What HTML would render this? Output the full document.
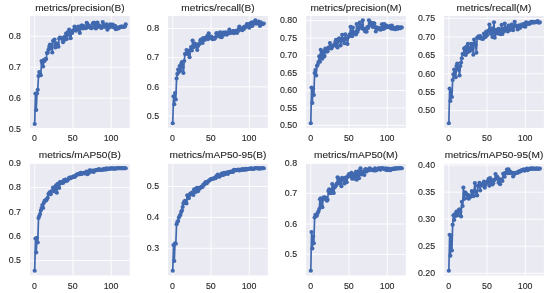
<!DOCTYPE html>
<html><head><meta charset="utf-8"><title>results</title>
<style>
html,body{margin:0;padding:0;background:#fff}
svg{display:block}
text{font-family:"Liberation Sans",Arial,sans-serif;fill:#262626;stroke:#262626;stroke-width:0.1px}
.t{font-size:9.3px}
.k{font-size:8.5px}
</style></head><body>
<svg width="550" height="293" viewBox="0 0 550 293">
<rect width="550" height="293" fill="#fff"/>
<g transform="scale(1.0,1)">
<rect x="30.000" y="16.0" width="99.750" height="111.90" fill="#eaeaf2"/>
<path d="M34.700 16.0V127.9M72.950 16.0V127.9M111.200 16.0V127.9M30.000 98.2H129.750M30.000 67.25H129.750M30.000 36.3H129.750" stroke="#fff" stroke-width="0.9" fill="none"/>
<g clip-path="none"><path d="M34.70 123.90 L35.47 93.50 L36.23 110.00 L37.00 93.50 L37.76 89.80 L38.53 76.00 L39.29 72.00 L40.06 74.00 L40.82 75.30 L41.59 61.00 L42.35 63.00 L43.12 66.40 L43.88 60.00 L44.65 61.00 L45.41 58.90 L46.18 59.00 L46.94 53.10 L47.71 52.65 L48.47 49.73 L49.23 46.87 L50.00 44.52 L50.77 48.48 L51.53 45.07 L52.30 52.47 L53.06 40.88 L53.83 40.36 L54.59 39.48 L55.36 47.39 L56.12 45.85 L56.89 43.14 L57.65 44.35 L58.42 46.73 L59.18 38.49 L59.95 37.41 L60.71 37.94 L61.48 38.03 L62.24 39.11 L63.01 42.19 L63.77 40.12 L64.53 36.83 L65.30 39.58 L66.06 33.47 L66.83 39.10 L67.59 32.24 L68.36 32.75 L69.12 29.56 L69.89 35.27 L70.66 38.25 L71.42 32.39 L72.19 32.99 L72.95 30.52 L73.72 30.15 L74.48 26.59 L75.25 28.90 L76.01 30.87 L76.78 28.05 L77.54 27.36 L78.31 26.44 L79.07 29.63 L79.84 33.03 L80.60 28.12 L81.37 25.43 L82.13 25.38 L82.90 28.51 L83.66 26.04 L84.43 27.55 L85.19 27.99 L85.96 28.24 L86.72 22.74 L87.49 24.01 L88.25 26.88 L89.02 25.71 L89.78 26.36 L90.55 27.66 L91.31 28.13 L92.08 27.67 L92.84 23.56 L93.61 22.86 L94.37 22.86 L95.14 25.79 L95.90 28.50 L96.67 27.51 L97.43 22.42 L98.20 26.79 L98.96 25.26 L99.73 26.18 L100.49 26.68 L101.26 27.88 L102.02 27.42 L102.79 21.97 L103.55 25.34 L104.31 25.62 L105.08 27.03 L105.84 25.07 L106.61 24.26 L107.38 29.70 L108.14 26.75 L108.91 27.82 L109.67 25.25 L110.44 24.21 L111.20 26.47 L111.97 26.50 L112.73 24.58 L113.50 27.14 L114.26 25.73 L115.03 25.87 L115.79 29.36 L116.56 27.47 L117.32 28.84 L118.09 27.62 L118.85 28.37 L119.62 27.26 L120.38 26.82 L121.15 26.55 L121.91 26.80 L122.68 26.53 L123.44 26.92 L124.20 26.75 L124.97 26.60 L125.73 24.37" stroke="#4169b0" stroke-width="1.7" fill="none" stroke-linejoin="round" stroke-linecap="round"/>
<g fill="#4169b0"><ellipse cx="34.70" cy="123.90" rx="2.1" ry="2.0"/><ellipse cx="35.47" cy="93.50" rx="2.1" ry="2.0"/><ellipse cx="36.23" cy="110.00" rx="2.1" ry="2.0"/><ellipse cx="37.00" cy="93.50" rx="2.1" ry="2.0"/><ellipse cx="37.76" cy="89.80" rx="2.1" ry="2.0"/><ellipse cx="38.53" cy="76.00" rx="2.1" ry="2.0"/><ellipse cx="39.29" cy="72.00" rx="2.1" ry="2.0"/><ellipse cx="40.06" cy="74.00" rx="2.1" ry="2.0"/><ellipse cx="40.82" cy="75.30" rx="2.1" ry="2.0"/><ellipse cx="41.59" cy="61.00" rx="2.1" ry="2.0"/><ellipse cx="42.35" cy="63.00" rx="2.1" ry="2.0"/><ellipse cx="43.12" cy="66.40" rx="2.1" ry="2.0"/><ellipse cx="43.88" cy="60.00" rx="2.1" ry="2.0"/><ellipse cx="44.65" cy="61.00" rx="2.1" ry="2.0"/><ellipse cx="45.41" cy="58.90" rx="2.1" ry="2.0"/><ellipse cx="46.18" cy="59.00" rx="2.1" ry="2.0"/><ellipse cx="46.94" cy="53.10" rx="2.1" ry="2.0"/><ellipse cx="47.71" cy="52.65" rx="2.1" ry="2.0"/><ellipse cx="48.47" cy="49.73" rx="2.1" ry="2.0"/><ellipse cx="49.23" cy="46.87" rx="2.1" ry="2.0"/><ellipse cx="50.00" cy="44.52" rx="2.1" ry="2.0"/><ellipse cx="50.77" cy="48.48" rx="2.1" ry="2.0"/><ellipse cx="51.53" cy="45.07" rx="2.1" ry="2.0"/><ellipse cx="52.30" cy="52.47" rx="2.1" ry="2.0"/><ellipse cx="53.06" cy="40.88" rx="2.1" ry="2.0"/><ellipse cx="53.83" cy="40.36" rx="2.1" ry="2.0"/><ellipse cx="54.59" cy="39.48" rx="2.1" ry="2.0"/><ellipse cx="55.36" cy="47.39" rx="2.1" ry="2.0"/><ellipse cx="56.12" cy="45.85" rx="2.1" ry="2.0"/><ellipse cx="56.89" cy="43.14" rx="2.1" ry="2.0"/><ellipse cx="57.65" cy="44.35" rx="2.1" ry="2.0"/><ellipse cx="58.42" cy="46.73" rx="2.1" ry="2.0"/><ellipse cx="59.18" cy="38.49" rx="2.1" ry="2.0"/><ellipse cx="59.95" cy="37.41" rx="2.1" ry="2.0"/><ellipse cx="60.71" cy="37.94" rx="2.1" ry="2.0"/><ellipse cx="61.48" cy="38.03" rx="2.1" ry="2.0"/><ellipse cx="62.24" cy="39.11" rx="2.1" ry="2.0"/><ellipse cx="63.01" cy="42.19" rx="2.1" ry="2.0"/><ellipse cx="63.77" cy="40.12" rx="2.1" ry="2.0"/><ellipse cx="64.53" cy="36.83" rx="2.1" ry="2.0"/><ellipse cx="65.30" cy="39.58" rx="2.1" ry="2.0"/><ellipse cx="66.06" cy="33.47" rx="2.1" ry="2.0"/><ellipse cx="66.83" cy="39.10" rx="2.1" ry="2.0"/><ellipse cx="67.59" cy="32.24" rx="2.1" ry="2.0"/><ellipse cx="68.36" cy="32.75" rx="2.1" ry="2.0"/><ellipse cx="69.12" cy="29.56" rx="2.1" ry="2.0"/><ellipse cx="69.89" cy="35.27" rx="2.1" ry="2.0"/><ellipse cx="70.66" cy="38.25" rx="2.1" ry="2.0"/><ellipse cx="71.42" cy="32.39" rx="2.1" ry="2.0"/><ellipse cx="72.19" cy="32.99" rx="2.1" ry="2.0"/><ellipse cx="72.95" cy="30.52" rx="2.1" ry="2.0"/><ellipse cx="73.72" cy="30.15" rx="2.1" ry="2.0"/><ellipse cx="74.48" cy="26.59" rx="2.1" ry="2.0"/><ellipse cx="75.25" cy="28.90" rx="2.1" ry="2.0"/><ellipse cx="76.01" cy="30.87" rx="2.1" ry="2.0"/><ellipse cx="76.78" cy="28.05" rx="2.1" ry="2.0"/><ellipse cx="77.54" cy="27.36" rx="2.1" ry="2.0"/><ellipse cx="78.31" cy="26.44" rx="2.1" ry="2.0"/><ellipse cx="79.07" cy="29.63" rx="2.1" ry="2.0"/><ellipse cx="79.84" cy="33.03" rx="2.1" ry="2.0"/><ellipse cx="80.60" cy="28.12" rx="2.1" ry="2.0"/><ellipse cx="81.37" cy="25.43" rx="2.1" ry="2.0"/><ellipse cx="82.13" cy="25.38" rx="2.1" ry="2.0"/><ellipse cx="82.90" cy="28.51" rx="2.1" ry="2.0"/><ellipse cx="83.66" cy="26.04" rx="2.1" ry="2.0"/><ellipse cx="84.43" cy="27.55" rx="2.1" ry="2.0"/><ellipse cx="85.19" cy="27.99" rx="2.1" ry="2.0"/><ellipse cx="85.96" cy="28.24" rx="2.1" ry="2.0"/><ellipse cx="86.72" cy="22.74" rx="2.1" ry="2.0"/><ellipse cx="87.49" cy="24.01" rx="2.1" ry="2.0"/><ellipse cx="88.25" cy="26.88" rx="2.1" ry="2.0"/><ellipse cx="89.02" cy="25.71" rx="2.1" ry="2.0"/><ellipse cx="89.78" cy="26.36" rx="2.1" ry="2.0"/><ellipse cx="90.55" cy="27.66" rx="2.1" ry="2.0"/><ellipse cx="91.31" cy="28.13" rx="2.1" ry="2.0"/><ellipse cx="92.08" cy="27.67" rx="2.1" ry="2.0"/><ellipse cx="92.84" cy="23.56" rx="2.1" ry="2.0"/><ellipse cx="93.61" cy="22.86" rx="2.1" ry="2.0"/><ellipse cx="94.37" cy="22.86" rx="2.1" ry="2.0"/><ellipse cx="95.14" cy="25.79" rx="2.1" ry="2.0"/><ellipse cx="95.90" cy="28.50" rx="2.1" ry="2.0"/><ellipse cx="96.67" cy="27.51" rx="2.1" ry="2.0"/><ellipse cx="97.43" cy="22.42" rx="2.1" ry="2.0"/><ellipse cx="98.20" cy="26.79" rx="2.1" ry="2.0"/><ellipse cx="98.96" cy="25.26" rx="2.1" ry="2.0"/><ellipse cx="99.73" cy="26.18" rx="2.1" ry="2.0"/><ellipse cx="100.49" cy="26.68" rx="2.1" ry="2.0"/><ellipse cx="101.26" cy="27.88" rx="2.1" ry="2.0"/><ellipse cx="102.02" cy="27.42" rx="2.1" ry="2.0"/><ellipse cx="102.79" cy="21.97" rx="2.1" ry="2.0"/><ellipse cx="103.55" cy="25.34" rx="2.1" ry="2.0"/><ellipse cx="104.31" cy="25.62" rx="2.1" ry="2.0"/><ellipse cx="105.08" cy="27.03" rx="2.1" ry="2.0"/><ellipse cx="105.84" cy="25.07" rx="2.1" ry="2.0"/><ellipse cx="106.61" cy="24.26" rx="2.1" ry="2.0"/><ellipse cx="107.38" cy="29.70" rx="2.1" ry="2.0"/><ellipse cx="108.14" cy="26.75" rx="2.1" ry="2.0"/><ellipse cx="108.91" cy="27.82" rx="2.1" ry="2.0"/><ellipse cx="109.67" cy="25.25" rx="2.1" ry="2.0"/><ellipse cx="110.44" cy="24.21" rx="2.1" ry="2.0"/><ellipse cx="111.20" cy="26.47" rx="2.1" ry="2.0"/><ellipse cx="111.97" cy="26.50" rx="2.1" ry="2.0"/><ellipse cx="112.73" cy="24.58" rx="2.1" ry="2.0"/><ellipse cx="113.50" cy="27.14" rx="2.1" ry="2.0"/><ellipse cx="114.26" cy="25.73" rx="2.1" ry="2.0"/><ellipse cx="115.03" cy="25.87" rx="2.1" ry="2.0"/><ellipse cx="115.79" cy="29.36" rx="2.1" ry="2.0"/><ellipse cx="116.56" cy="27.47" rx="2.1" ry="2.0"/><ellipse cx="117.32" cy="28.84" rx="2.1" ry="2.0"/><ellipse cx="118.09" cy="27.62" rx="2.1" ry="2.0"/><ellipse cx="118.85" cy="28.37" rx="2.1" ry="2.0"/><ellipse cx="119.62" cy="27.26" rx="2.1" ry="2.0"/><ellipse cx="120.38" cy="26.82" rx="2.1" ry="2.0"/><ellipse cx="121.15" cy="26.55" rx="2.1" ry="2.0"/><ellipse cx="121.91" cy="26.80" rx="2.1" ry="2.0"/><ellipse cx="122.68" cy="26.53" rx="2.1" ry="2.0"/><ellipse cx="123.44" cy="26.92" rx="2.1" ry="2.0"/><ellipse cx="124.20" cy="26.75" rx="2.1" ry="2.0"/><ellipse cx="124.97" cy="26.60" rx="2.1" ry="2.0"/><ellipse cx="125.73" cy="24.37" rx="2.1" ry="2.0"/></g></g>
<text transform="translate(79.88,11.20) scale(1.09,1)" text-anchor="middle" class="t">metrics/precision(B)</text>
<text transform="translate(21.00,131.70) scale(1.04,1)" text-anchor="end" class="k">0.5</text>
<text transform="translate(21.00,100.90) scale(1.04,1)" text-anchor="end" class="k">0.6</text>
<text transform="translate(21.00,69.95) scale(1.04,1)" text-anchor="end" class="k">0.7</text>
<text transform="translate(21.00,39.00) scale(1.04,1)" text-anchor="end" class="k">0.8</text>
<text transform="translate(34.50,140.80) scale(1.04,1)" text-anchor="middle" class="k">0</text>
<text transform="translate(72.75,140.80) scale(1.04,1)" text-anchor="middle" class="k">50</text>
<text transform="translate(111.00,140.80) scale(1.04,1)" text-anchor="middle" class="k">100</text>
<rect x="168.050" y="16.0" width="99.750" height="111.90" fill="#eaeaf2"/>
<path d="M172.750 16.0V127.9M211.000 16.0V127.9M249.250 16.0V127.9M168.050 116.0H267.800M168.050 86.83H267.800M168.050 57.67H267.800M168.050 28.5H267.800" stroke="#fff" stroke-width="0.9" fill="none"/>
<g clip-path="none"><path d="M172.75 123.30 L173.51 96.30 L174.28 104.20 L175.04 93.00 L175.81 99.40 L176.57 78.60 L177.34 74.00 L178.10 69.50 L178.87 72.00 L179.63 66.00 L180.40 70.70 L181.16 64.00 L181.93 62.00 L182.69 67.00 L183.46 73.00 L184.22 61.00 L184.99 54.05 L185.75 53.74 L186.52 49.99 L187.28 53.41 L188.05 50.78 L188.81 54.50 L189.58 57.35 L190.34 49.92 L191.11 46.99 L191.88 50.54 L192.64 40.50 L193.41 46.95 L194.17 46.93 L194.94 43.54 L195.70 45.75 L196.47 45.47 L197.23 50.04 L198.00 45.95 L198.76 43.98 L199.53 44.03 L200.29 40.46 L201.06 39.58 L201.82 39.41 L202.59 43.03 L203.35 37.92 L204.12 39.64 L204.88 39.71 L205.65 38.36 L206.41 37.43 L207.18 35.91 L207.94 39.36 L208.70 33.28 L209.47 37.18 L210.24 37.64 L211.00 36.56 L211.76 37.01 L212.53 39.34 L213.30 38.04 L214.06 39.12 L214.82 38.42 L215.59 37.25 L216.36 33.14 L217.12 33.11 L217.88 35.27 L218.65 34.22 L219.41 36.49 L220.18 32.30 L220.94 36.92 L221.71 37.28 L222.47 34.86 L223.24 32.60 L224.00 34.72 L224.77 33.01 L225.53 32.24 L226.30 34.56 L227.06 34.51 L227.83 33.14 L228.59 32.20 L229.36 29.43 L230.12 33.36 L230.89 32.32 L231.66 31.70 L232.42 32.56 L233.19 30.64 L233.95 33.17 L234.72 32.14 L235.48 30.83 L236.25 30.64 L237.01 32.96 L237.78 31.53 L238.54 29.00 L239.31 26.41 L240.07 29.85 L240.84 28.81 L241.60 29.23 L242.37 30.14 L243.13 27.45 L243.89 29.04 L244.66 26.47 L245.43 27.29 L246.19 26.78 L246.95 23.92 L247.72 23.96 L248.49 24.66 L249.25 27.86 L250.01 26.38 L250.78 22.99 L251.55 22.52 L252.31 26.10 L253.07 22.36 L253.84 23.55 L254.61 22.58 L255.37 20.30 L256.13 23.83 L256.90 22.12 L257.67 22.80 L258.43 21.57 L259.19 23.95 L259.96 25.90 L260.73 22.17 L261.49 23.73 L262.25 24.29 L263.02 23.74 L263.78 23.52" stroke="#4169b0" stroke-width="1.7" fill="none" stroke-linejoin="round" stroke-linecap="round"/>
<g fill="#4169b0"><ellipse cx="172.75" cy="123.30" rx="2.1" ry="2.0"/><ellipse cx="173.51" cy="96.30" rx="2.1" ry="2.0"/><ellipse cx="174.28" cy="104.20" rx="2.1" ry="2.0"/><ellipse cx="175.04" cy="93.00" rx="2.1" ry="2.0"/><ellipse cx="175.81" cy="99.40" rx="2.1" ry="2.0"/><ellipse cx="176.57" cy="78.60" rx="2.1" ry="2.0"/><ellipse cx="177.34" cy="74.00" rx="2.1" ry="2.0"/><ellipse cx="178.10" cy="69.50" rx="2.1" ry="2.0"/><ellipse cx="178.87" cy="72.00" rx="2.1" ry="2.0"/><ellipse cx="179.63" cy="66.00" rx="2.1" ry="2.0"/><ellipse cx="180.40" cy="70.70" rx="2.1" ry="2.0"/><ellipse cx="181.16" cy="64.00" rx="2.1" ry="2.0"/><ellipse cx="181.93" cy="62.00" rx="2.1" ry="2.0"/><ellipse cx="182.69" cy="67.00" rx="2.1" ry="2.0"/><ellipse cx="183.46" cy="73.00" rx="2.1" ry="2.0"/><ellipse cx="184.22" cy="61.00" rx="2.1" ry="2.0"/><ellipse cx="184.99" cy="54.05" rx="2.1" ry="2.0"/><ellipse cx="185.75" cy="53.74" rx="2.1" ry="2.0"/><ellipse cx="186.52" cy="49.99" rx="2.1" ry="2.0"/><ellipse cx="187.28" cy="53.41" rx="2.1" ry="2.0"/><ellipse cx="188.05" cy="50.78" rx="2.1" ry="2.0"/><ellipse cx="188.81" cy="54.50" rx="2.1" ry="2.0"/><ellipse cx="189.58" cy="57.35" rx="2.1" ry="2.0"/><ellipse cx="190.34" cy="49.92" rx="2.1" ry="2.0"/><ellipse cx="191.11" cy="46.99" rx="2.1" ry="2.0"/><ellipse cx="191.88" cy="50.54" rx="2.1" ry="2.0"/><ellipse cx="192.64" cy="40.50" rx="2.1" ry="2.0"/><ellipse cx="193.41" cy="46.95" rx="2.1" ry="2.0"/><ellipse cx="194.17" cy="46.93" rx="2.1" ry="2.0"/><ellipse cx="194.94" cy="43.54" rx="2.1" ry="2.0"/><ellipse cx="195.70" cy="45.75" rx="2.1" ry="2.0"/><ellipse cx="196.47" cy="45.47" rx="2.1" ry="2.0"/><ellipse cx="197.23" cy="50.04" rx="2.1" ry="2.0"/><ellipse cx="198.00" cy="45.95" rx="2.1" ry="2.0"/><ellipse cx="198.76" cy="43.98" rx="2.1" ry="2.0"/><ellipse cx="199.53" cy="44.03" rx="2.1" ry="2.0"/><ellipse cx="200.29" cy="40.46" rx="2.1" ry="2.0"/><ellipse cx="201.06" cy="39.58" rx="2.1" ry="2.0"/><ellipse cx="201.82" cy="39.41" rx="2.1" ry="2.0"/><ellipse cx="202.59" cy="43.03" rx="2.1" ry="2.0"/><ellipse cx="203.35" cy="37.92" rx="2.1" ry="2.0"/><ellipse cx="204.12" cy="39.64" rx="2.1" ry="2.0"/><ellipse cx="204.88" cy="39.71" rx="2.1" ry="2.0"/><ellipse cx="205.65" cy="38.36" rx="2.1" ry="2.0"/><ellipse cx="206.41" cy="37.43" rx="2.1" ry="2.0"/><ellipse cx="207.18" cy="35.91" rx="2.1" ry="2.0"/><ellipse cx="207.94" cy="39.36" rx="2.1" ry="2.0"/><ellipse cx="208.70" cy="33.28" rx="2.1" ry="2.0"/><ellipse cx="209.47" cy="37.18" rx="2.1" ry="2.0"/><ellipse cx="210.24" cy="37.64" rx="2.1" ry="2.0"/><ellipse cx="211.00" cy="36.56" rx="2.1" ry="2.0"/><ellipse cx="211.76" cy="37.01" rx="2.1" ry="2.0"/><ellipse cx="212.53" cy="39.34" rx="2.1" ry="2.0"/><ellipse cx="213.30" cy="38.04" rx="2.1" ry="2.0"/><ellipse cx="214.06" cy="39.12" rx="2.1" ry="2.0"/><ellipse cx="214.82" cy="38.42" rx="2.1" ry="2.0"/><ellipse cx="215.59" cy="37.25" rx="2.1" ry="2.0"/><ellipse cx="216.36" cy="33.14" rx="2.1" ry="2.0"/><ellipse cx="217.12" cy="33.11" rx="2.1" ry="2.0"/><ellipse cx="217.88" cy="35.27" rx="2.1" ry="2.0"/><ellipse cx="218.65" cy="34.22" rx="2.1" ry="2.0"/><ellipse cx="219.41" cy="36.49" rx="2.1" ry="2.0"/><ellipse cx="220.18" cy="32.30" rx="2.1" ry="2.0"/><ellipse cx="220.94" cy="36.92" rx="2.1" ry="2.0"/><ellipse cx="221.71" cy="37.28" rx="2.1" ry="2.0"/><ellipse cx="222.47" cy="34.86" rx="2.1" ry="2.0"/><ellipse cx="223.24" cy="32.60" rx="2.1" ry="2.0"/><ellipse cx="224.00" cy="34.72" rx="2.1" ry="2.0"/><ellipse cx="224.77" cy="33.01" rx="2.1" ry="2.0"/><ellipse cx="225.53" cy="32.24" rx="2.1" ry="2.0"/><ellipse cx="226.30" cy="34.56" rx="2.1" ry="2.0"/><ellipse cx="227.06" cy="34.51" rx="2.1" ry="2.0"/><ellipse cx="227.83" cy="33.14" rx="2.1" ry="2.0"/><ellipse cx="228.59" cy="32.20" rx="2.1" ry="2.0"/><ellipse cx="229.36" cy="29.43" rx="2.1" ry="2.0"/><ellipse cx="230.12" cy="33.36" rx="2.1" ry="2.0"/><ellipse cx="230.89" cy="32.32" rx="2.1" ry="2.0"/><ellipse cx="231.66" cy="31.70" rx="2.1" ry="2.0"/><ellipse cx="232.42" cy="32.56" rx="2.1" ry="2.0"/><ellipse cx="233.19" cy="30.64" rx="2.1" ry="2.0"/><ellipse cx="233.95" cy="33.17" rx="2.1" ry="2.0"/><ellipse cx="234.72" cy="32.14" rx="2.1" ry="2.0"/><ellipse cx="235.48" cy="30.83" rx="2.1" ry="2.0"/><ellipse cx="236.25" cy="30.64" rx="2.1" ry="2.0"/><ellipse cx="237.01" cy="32.96" rx="2.1" ry="2.0"/><ellipse cx="237.78" cy="31.53" rx="2.1" ry="2.0"/><ellipse cx="238.54" cy="29.00" rx="2.1" ry="2.0"/><ellipse cx="239.31" cy="26.41" rx="2.1" ry="2.0"/><ellipse cx="240.07" cy="29.85" rx="2.1" ry="2.0"/><ellipse cx="240.84" cy="28.81" rx="2.1" ry="2.0"/><ellipse cx="241.60" cy="29.23" rx="2.1" ry="2.0"/><ellipse cx="242.37" cy="30.14" rx="2.1" ry="2.0"/><ellipse cx="243.13" cy="27.45" rx="2.1" ry="2.0"/><ellipse cx="243.89" cy="29.04" rx="2.1" ry="2.0"/><ellipse cx="244.66" cy="26.47" rx="2.1" ry="2.0"/><ellipse cx="245.43" cy="27.29" rx="2.1" ry="2.0"/><ellipse cx="246.19" cy="26.78" rx="2.1" ry="2.0"/><ellipse cx="246.95" cy="23.92" rx="2.1" ry="2.0"/><ellipse cx="247.72" cy="23.96" rx="2.1" ry="2.0"/><ellipse cx="248.49" cy="24.66" rx="2.1" ry="2.0"/><ellipse cx="249.25" cy="27.86" rx="2.1" ry="2.0"/><ellipse cx="250.01" cy="26.38" rx="2.1" ry="2.0"/><ellipse cx="250.78" cy="22.99" rx="2.1" ry="2.0"/><ellipse cx="251.55" cy="22.52" rx="2.1" ry="2.0"/><ellipse cx="252.31" cy="26.10" rx="2.1" ry="2.0"/><ellipse cx="253.07" cy="22.36" rx="2.1" ry="2.0"/><ellipse cx="253.84" cy="23.55" rx="2.1" ry="2.0"/><ellipse cx="254.61" cy="22.58" rx="2.1" ry="2.0"/><ellipse cx="255.37" cy="20.30" rx="2.1" ry="2.0"/><ellipse cx="256.13" cy="23.83" rx="2.1" ry="2.0"/><ellipse cx="256.90" cy="22.12" rx="2.1" ry="2.0"/><ellipse cx="257.67" cy="22.80" rx="2.1" ry="2.0"/><ellipse cx="258.43" cy="21.57" rx="2.1" ry="2.0"/><ellipse cx="259.19" cy="23.95" rx="2.1" ry="2.0"/><ellipse cx="259.96" cy="25.90" rx="2.1" ry="2.0"/><ellipse cx="260.73" cy="22.17" rx="2.1" ry="2.0"/><ellipse cx="261.49" cy="23.73" rx="2.1" ry="2.0"/><ellipse cx="262.25" cy="24.29" rx="2.1" ry="2.0"/><ellipse cx="263.02" cy="23.74" rx="2.1" ry="2.0"/><ellipse cx="263.78" cy="23.52" rx="2.1" ry="2.0"/></g></g>
<text transform="translate(217.93,11.20) scale(1.09,1)" text-anchor="middle" class="t">metrics/recall(B)</text>
<text transform="translate(159.05,118.70) scale(1.04,1)" text-anchor="end" class="k">0.5</text>
<text transform="translate(159.05,89.53) scale(1.04,1)" text-anchor="end" class="k">0.6</text>
<text transform="translate(159.05,60.37) scale(1.04,1)" text-anchor="end" class="k">0.7</text>
<text transform="translate(159.05,31.20) scale(1.04,1)" text-anchor="end" class="k">0.8</text>
<text transform="translate(172.55,140.80) scale(1.04,1)" text-anchor="middle" class="k">0</text>
<text transform="translate(210.80,140.80) scale(1.04,1)" text-anchor="middle" class="k">50</text>
<text transform="translate(249.05,140.80) scale(1.04,1)" text-anchor="middle" class="k">100</text>
<rect x="306.100" y="16.0" width="99.750" height="111.90" fill="#eaeaf2"/>
<path d="M310.800 16.0V127.9M349.050 16.0V127.9M387.300 16.0V127.9M306.100 125.4H405.850M306.100 107.95H405.850M306.100 90.5H405.850M306.100 73.03H405.850M306.100 55.57H405.850M306.100 38.1H405.850M306.100 20.65H405.850" stroke="#fff" stroke-width="0.9" fill="none"/>
<g clip-path="none"><path d="M310.80 123.30 L311.56 87.40 L312.33 103.00 L313.10 88.60 L313.86 95.00 L314.62 73.00 L315.39 70.00 L316.16 75.50 L316.92 66.00 L317.69 64.80 L318.45 62.00 L319.22 56.18 L319.98 61.86 L320.75 49.85 L321.51 54.33 L322.28 58.76 L323.04 51.34 L323.81 56.84 L324.57 55.92 L325.34 48.49 L326.10 51.49 L326.87 51.58 L327.63 51.18 L328.39 47.39 L329.16 48.24 L329.93 43.05 L330.69 46.99 L331.46 48.57 L332.22 46.53 L332.99 45.61 L333.75 45.51 L334.51 44.65 L335.28 41.88 L336.05 39.67 L336.81 46.48 L337.57 47.41 L338.34 40.87 L339.11 38.24 L339.87 38.89 L340.63 45.53 L341.40 40.75 L342.17 34.75 L342.93 39.48 L343.69 39.37 L344.46 43.32 L345.23 34.27 L345.99 39.05 L346.75 39.11 L347.52 44.12 L348.29 37.05 L349.05 36.35 L349.81 34.34 L350.58 26.79 L351.35 34.63 L352.11 36.13 L352.88 27.54 L353.64 33.41 L354.41 33.06 L355.17 32.08 L355.94 34.40 L356.70 24.00 L357.47 31.96 L358.23 29.49 L359.00 27.14 L359.76 22.56 L360.53 26.22 L361.29 25.47 L362.06 28.46 L362.82 20.30 L363.59 28.96 L364.35 29.12 L365.12 31.61 L365.88 28.79 L366.64 31.71 L367.41 27.12 L368.18 28.06 L368.94 20.30 L369.71 25.62 L370.47 24.71 L371.24 22.69 L372.00 23.11 L372.76 26.93 L373.53 23.07 L374.30 23.57 L375.06 27.23 L375.83 31.51 L376.59 27.19 L377.36 28.06 L378.12 28.54 L378.88 28.96 L379.65 27.94 L380.42 29.71 L381.18 29.16 L381.94 24.31 L382.71 24.41 L383.48 29.10 L384.24 23.92 L385.00 28.06 L385.77 27.08 L386.54 25.40 L387.30 26.73 L388.06 27.32 L388.83 26.79 L389.60 27.13 L390.36 25.84 L391.12 28.46 L391.89 25.52 L392.66 28.83 L393.42 28.23 L394.19 27.76 L394.95 29.18 L395.72 29.27 L396.48 27.63 L397.25 26.98 L398.01 28.68 L398.78 27.61 L399.54 27.53 L400.31 28.18 L401.07 27.31 L401.84 27.61" stroke="#4169b0" stroke-width="1.7" fill="none" stroke-linejoin="round" stroke-linecap="round"/>
<g fill="#4169b0"><ellipse cx="310.80" cy="123.30" rx="2.1" ry="2.0"/><ellipse cx="311.56" cy="87.40" rx="2.1" ry="2.0"/><ellipse cx="312.33" cy="103.00" rx="2.1" ry="2.0"/><ellipse cx="313.10" cy="88.60" rx="2.1" ry="2.0"/><ellipse cx="313.86" cy="95.00" rx="2.1" ry="2.0"/><ellipse cx="314.62" cy="73.00" rx="2.1" ry="2.0"/><ellipse cx="315.39" cy="70.00" rx="2.1" ry="2.0"/><ellipse cx="316.16" cy="75.50" rx="2.1" ry="2.0"/><ellipse cx="316.92" cy="66.00" rx="2.1" ry="2.0"/><ellipse cx="317.69" cy="64.80" rx="2.1" ry="2.0"/><ellipse cx="318.45" cy="62.00" rx="2.1" ry="2.0"/><ellipse cx="319.22" cy="56.18" rx="2.1" ry="2.0"/><ellipse cx="319.98" cy="61.86" rx="2.1" ry="2.0"/><ellipse cx="320.75" cy="49.85" rx="2.1" ry="2.0"/><ellipse cx="321.51" cy="54.33" rx="2.1" ry="2.0"/><ellipse cx="322.28" cy="58.76" rx="2.1" ry="2.0"/><ellipse cx="323.04" cy="51.34" rx="2.1" ry="2.0"/><ellipse cx="323.81" cy="56.84" rx="2.1" ry="2.0"/><ellipse cx="324.57" cy="55.92" rx="2.1" ry="2.0"/><ellipse cx="325.34" cy="48.49" rx="2.1" ry="2.0"/><ellipse cx="326.10" cy="51.49" rx="2.1" ry="2.0"/><ellipse cx="326.87" cy="51.58" rx="2.1" ry="2.0"/><ellipse cx="327.63" cy="51.18" rx="2.1" ry="2.0"/><ellipse cx="328.39" cy="47.39" rx="2.1" ry="2.0"/><ellipse cx="329.16" cy="48.24" rx="2.1" ry="2.0"/><ellipse cx="329.93" cy="43.05" rx="2.1" ry="2.0"/><ellipse cx="330.69" cy="46.99" rx="2.1" ry="2.0"/><ellipse cx="331.46" cy="48.57" rx="2.1" ry="2.0"/><ellipse cx="332.22" cy="46.53" rx="2.1" ry="2.0"/><ellipse cx="332.99" cy="45.61" rx="2.1" ry="2.0"/><ellipse cx="333.75" cy="45.51" rx="2.1" ry="2.0"/><ellipse cx="334.51" cy="44.65" rx="2.1" ry="2.0"/><ellipse cx="335.28" cy="41.88" rx="2.1" ry="2.0"/><ellipse cx="336.05" cy="39.67" rx="2.1" ry="2.0"/><ellipse cx="336.81" cy="46.48" rx="2.1" ry="2.0"/><ellipse cx="337.57" cy="47.41" rx="2.1" ry="2.0"/><ellipse cx="338.34" cy="40.87" rx="2.1" ry="2.0"/><ellipse cx="339.11" cy="38.24" rx="2.1" ry="2.0"/><ellipse cx="339.87" cy="38.89" rx="2.1" ry="2.0"/><ellipse cx="340.63" cy="45.53" rx="2.1" ry="2.0"/><ellipse cx="341.40" cy="40.75" rx="2.1" ry="2.0"/><ellipse cx="342.17" cy="34.75" rx="2.1" ry="2.0"/><ellipse cx="342.93" cy="39.48" rx="2.1" ry="2.0"/><ellipse cx="343.69" cy="39.37" rx="2.1" ry="2.0"/><ellipse cx="344.46" cy="43.32" rx="2.1" ry="2.0"/><ellipse cx="345.23" cy="34.27" rx="2.1" ry="2.0"/><ellipse cx="345.99" cy="39.05" rx="2.1" ry="2.0"/><ellipse cx="346.75" cy="39.11" rx="2.1" ry="2.0"/><ellipse cx="347.52" cy="44.12" rx="2.1" ry="2.0"/><ellipse cx="348.29" cy="37.05" rx="2.1" ry="2.0"/><ellipse cx="349.05" cy="36.35" rx="2.1" ry="2.0"/><ellipse cx="349.81" cy="34.34" rx="2.1" ry="2.0"/><ellipse cx="350.58" cy="26.79" rx="2.1" ry="2.0"/><ellipse cx="351.35" cy="34.63" rx="2.1" ry="2.0"/><ellipse cx="352.11" cy="36.13" rx="2.1" ry="2.0"/><ellipse cx="352.88" cy="27.54" rx="2.1" ry="2.0"/><ellipse cx="353.64" cy="33.41" rx="2.1" ry="2.0"/><ellipse cx="354.41" cy="33.06" rx="2.1" ry="2.0"/><ellipse cx="355.17" cy="32.08" rx="2.1" ry="2.0"/><ellipse cx="355.94" cy="34.40" rx="2.1" ry="2.0"/><ellipse cx="356.70" cy="24.00" rx="2.1" ry="2.0"/><ellipse cx="357.47" cy="31.96" rx="2.1" ry="2.0"/><ellipse cx="358.23" cy="29.49" rx="2.1" ry="2.0"/><ellipse cx="359.00" cy="27.14" rx="2.1" ry="2.0"/><ellipse cx="359.76" cy="22.56" rx="2.1" ry="2.0"/><ellipse cx="360.53" cy="26.22" rx="2.1" ry="2.0"/><ellipse cx="361.29" cy="25.47" rx="2.1" ry="2.0"/><ellipse cx="362.06" cy="28.46" rx="2.1" ry="2.0"/><ellipse cx="362.82" cy="20.30" rx="2.1" ry="2.0"/><ellipse cx="363.59" cy="28.96" rx="2.1" ry="2.0"/><ellipse cx="364.35" cy="29.12" rx="2.1" ry="2.0"/><ellipse cx="365.12" cy="31.61" rx="2.1" ry="2.0"/><ellipse cx="365.88" cy="28.79" rx="2.1" ry="2.0"/><ellipse cx="366.64" cy="31.71" rx="2.1" ry="2.0"/><ellipse cx="367.41" cy="27.12" rx="2.1" ry="2.0"/><ellipse cx="368.18" cy="28.06" rx="2.1" ry="2.0"/><ellipse cx="368.94" cy="20.30" rx="2.1" ry="2.0"/><ellipse cx="369.71" cy="25.62" rx="2.1" ry="2.0"/><ellipse cx="370.47" cy="24.71" rx="2.1" ry="2.0"/><ellipse cx="371.24" cy="22.69" rx="2.1" ry="2.0"/><ellipse cx="372.00" cy="23.11" rx="2.1" ry="2.0"/><ellipse cx="372.76" cy="26.93" rx="2.1" ry="2.0"/><ellipse cx="373.53" cy="23.07" rx="2.1" ry="2.0"/><ellipse cx="374.30" cy="23.57" rx="2.1" ry="2.0"/><ellipse cx="375.06" cy="27.23" rx="2.1" ry="2.0"/><ellipse cx="375.83" cy="31.51" rx="2.1" ry="2.0"/><ellipse cx="376.59" cy="27.19" rx="2.1" ry="2.0"/><ellipse cx="377.36" cy="28.06" rx="2.1" ry="2.0"/><ellipse cx="378.12" cy="28.54" rx="2.1" ry="2.0"/><ellipse cx="378.88" cy="28.96" rx="2.1" ry="2.0"/><ellipse cx="379.65" cy="27.94" rx="2.1" ry="2.0"/><ellipse cx="380.42" cy="29.71" rx="2.1" ry="2.0"/><ellipse cx="381.18" cy="29.16" rx="2.1" ry="2.0"/><ellipse cx="381.94" cy="24.31" rx="2.1" ry="2.0"/><ellipse cx="382.71" cy="24.41" rx="2.1" ry="2.0"/><ellipse cx="383.48" cy="29.10" rx="2.1" ry="2.0"/><ellipse cx="384.24" cy="23.92" rx="2.1" ry="2.0"/><ellipse cx="385.00" cy="28.06" rx="2.1" ry="2.0"/><ellipse cx="385.77" cy="27.08" rx="2.1" ry="2.0"/><ellipse cx="386.54" cy="25.40" rx="2.1" ry="2.0"/><ellipse cx="387.30" cy="26.73" rx="2.1" ry="2.0"/><ellipse cx="388.06" cy="27.32" rx="2.1" ry="2.0"/><ellipse cx="388.83" cy="26.79" rx="2.1" ry="2.0"/><ellipse cx="389.60" cy="27.13" rx="2.1" ry="2.0"/><ellipse cx="390.36" cy="25.84" rx="2.1" ry="2.0"/><ellipse cx="391.12" cy="28.46" rx="2.1" ry="2.0"/><ellipse cx="391.89" cy="25.52" rx="2.1" ry="2.0"/><ellipse cx="392.66" cy="28.83" rx="2.1" ry="2.0"/><ellipse cx="393.42" cy="28.23" rx="2.1" ry="2.0"/><ellipse cx="394.19" cy="27.76" rx="2.1" ry="2.0"/><ellipse cx="394.95" cy="29.18" rx="2.1" ry="2.0"/><ellipse cx="395.72" cy="29.27" rx="2.1" ry="2.0"/><ellipse cx="396.48" cy="27.63" rx="2.1" ry="2.0"/><ellipse cx="397.25" cy="26.98" rx="2.1" ry="2.0"/><ellipse cx="398.01" cy="28.68" rx="2.1" ry="2.0"/><ellipse cx="398.78" cy="27.61" rx="2.1" ry="2.0"/><ellipse cx="399.54" cy="27.53" rx="2.1" ry="2.0"/><ellipse cx="400.31" cy="28.18" rx="2.1" ry="2.0"/><ellipse cx="401.07" cy="27.31" rx="2.1" ry="2.0"/><ellipse cx="401.84" cy="27.61" rx="2.1" ry="2.0"/></g></g>
<text transform="translate(355.98,11.20) scale(1.09,1)" text-anchor="middle" class="t">metrics/precision(M)</text>
<text transform="translate(297.10,128.10) scale(1.04,1)" text-anchor="end" class="k">0.50</text>
<text transform="translate(297.10,110.65) scale(1.04,1)" text-anchor="end" class="k">0.55</text>
<text transform="translate(297.10,93.20) scale(1.04,1)" text-anchor="end" class="k">0.60</text>
<text transform="translate(297.10,75.73) scale(1.04,1)" text-anchor="end" class="k">0.65</text>
<text transform="translate(297.10,58.27) scale(1.04,1)" text-anchor="end" class="k">0.70</text>
<text transform="translate(297.10,40.80) scale(1.04,1)" text-anchor="end" class="k">0.75</text>
<text transform="translate(297.10,23.35) scale(1.04,1)" text-anchor="end" class="k">0.80</text>
<text transform="translate(310.60,140.80) scale(1.04,1)" text-anchor="middle" class="k">0</text>
<text transform="translate(348.85,140.80) scale(1.04,1)" text-anchor="middle" class="k">50</text>
<text transform="translate(387.10,140.80) scale(1.04,1)" text-anchor="middle" class="k">100</text>
<rect x="444.150" y="16.0" width="99.750" height="111.90" fill="#eaeaf2"/>
<path d="M448.850 16.0V127.9M487.100 16.0V127.9M525.350 16.0V127.9M444.150 110.65H543.900M444.150 92.25H543.900M444.150 73.8H543.900M444.150 55.4H543.900M444.150 37.0H543.900M444.150 18.6H543.900" stroke="#fff" stroke-width="0.9" fill="none"/>
<g clip-path="none"><path d="M448.85 123.30 L449.61 88.60 L450.38 101.00 L451.14 91.00 L451.91 97.00 L452.67 80.00 L453.44 74.30 L454.20 69.50 L454.97 72.00 L455.73 77.20 L456.50 66.00 L457.26 63.60 L458.03 68.00 L458.79 70.00 L459.56 75.50 L460.32 66.00 L461.09 62.40 L461.85 58.31 L462.62 54.10 L463.38 53.88 L464.15 48.38 L464.91 47.98 L465.68 54.97 L466.44 46.58 L467.21 52.55 L467.97 43.68 L468.74 51.58 L469.50 47.95 L470.27 50.77 L471.03 43.97 L471.80 43.68 L472.56 47.94 L473.33 54.71 L474.09 39.43 L474.86 42.91 L475.62 45.07 L476.39 52.78 L477.15 37.87 L477.92 37.20 L478.68 36.27 L479.45 38.11 L480.21 35.92 L480.98 37.42 L481.74 38.71 L482.51 38.63 L483.27 38.76 L484.04 33.45 L484.80 35.50 L485.57 37.12 L486.33 31.57 L487.10 35.30 L487.86 31.73 L488.63 30.46 L489.39 24.61 L490.16 30.64 L490.92 33.70 L491.69 28.19 L492.45 36.92 L493.22 30.46 L493.98 22.35 L494.75 37.64 L495.51 33.77 L496.28 29.63 L497.04 30.41 L497.81 33.50 L498.57 28.76 L499.34 29.37 L500.10 34.08 L500.87 34.30 L501.63 24.81 L502.40 33.98 L503.16 28.92 L503.93 31.45 L504.69 23.56 L505.46 27.84 L506.22 29.79 L506.99 29.50 L507.75 31.47 L508.52 25.42 L509.28 28.37 L510.05 29.91 L510.81 29.03 L511.58 24.42 L512.35 28.66 L513.11 30.15 L513.88 26.49 L514.64 21.66 L515.40 26.34 L516.17 25.41 L516.93 26.52 L517.70 29.47 L518.46 27.97 L519.23 25.34 L520.00 28.08 L520.76 26.12 L521.52 25.07 L522.29 24.20 L523.05 26.28 L523.82 26.19 L524.58 23.75 L525.35 26.80 L526.12 22.32 L526.88 23.52 L527.64 23.96 L528.41 23.29 L529.17 24.02 L529.94 22.47 L530.70 23.35 L531.47 21.84 L532.24 21.74 L533.00 21.92 L533.76 22.74 L534.53 21.69 L535.29 22.33 L536.06 22.06 L536.82 22.26 L537.59 21.07 L538.36 22.37 L539.12 22.73 L539.88 22.27" stroke="#4169b0" stroke-width="1.7" fill="none" stroke-linejoin="round" stroke-linecap="round"/>
<g fill="#4169b0"><ellipse cx="448.85" cy="123.30" rx="2.1" ry="2.0"/><ellipse cx="449.61" cy="88.60" rx="2.1" ry="2.0"/><ellipse cx="450.38" cy="101.00" rx="2.1" ry="2.0"/><ellipse cx="451.14" cy="91.00" rx="2.1" ry="2.0"/><ellipse cx="451.91" cy="97.00" rx="2.1" ry="2.0"/><ellipse cx="452.67" cy="80.00" rx="2.1" ry="2.0"/><ellipse cx="453.44" cy="74.30" rx="2.1" ry="2.0"/><ellipse cx="454.20" cy="69.50" rx="2.1" ry="2.0"/><ellipse cx="454.97" cy="72.00" rx="2.1" ry="2.0"/><ellipse cx="455.73" cy="77.20" rx="2.1" ry="2.0"/><ellipse cx="456.50" cy="66.00" rx="2.1" ry="2.0"/><ellipse cx="457.26" cy="63.60" rx="2.1" ry="2.0"/><ellipse cx="458.03" cy="68.00" rx="2.1" ry="2.0"/><ellipse cx="458.79" cy="70.00" rx="2.1" ry="2.0"/><ellipse cx="459.56" cy="75.50" rx="2.1" ry="2.0"/><ellipse cx="460.32" cy="66.00" rx="2.1" ry="2.0"/><ellipse cx="461.09" cy="62.40" rx="2.1" ry="2.0"/><ellipse cx="461.85" cy="58.31" rx="2.1" ry="2.0"/><ellipse cx="462.62" cy="54.10" rx="2.1" ry="2.0"/><ellipse cx="463.38" cy="53.88" rx="2.1" ry="2.0"/><ellipse cx="464.15" cy="48.38" rx="2.1" ry="2.0"/><ellipse cx="464.91" cy="47.98" rx="2.1" ry="2.0"/><ellipse cx="465.68" cy="54.97" rx="2.1" ry="2.0"/><ellipse cx="466.44" cy="46.58" rx="2.1" ry="2.0"/><ellipse cx="467.21" cy="52.55" rx="2.1" ry="2.0"/><ellipse cx="467.97" cy="43.68" rx="2.1" ry="2.0"/><ellipse cx="468.74" cy="51.58" rx="2.1" ry="2.0"/><ellipse cx="469.50" cy="47.95" rx="2.1" ry="2.0"/><ellipse cx="470.27" cy="50.77" rx="2.1" ry="2.0"/><ellipse cx="471.03" cy="43.97" rx="2.1" ry="2.0"/><ellipse cx="471.80" cy="43.68" rx="2.1" ry="2.0"/><ellipse cx="472.56" cy="47.94" rx="2.1" ry="2.0"/><ellipse cx="473.33" cy="54.71" rx="2.1" ry="2.0"/><ellipse cx="474.09" cy="39.43" rx="2.1" ry="2.0"/><ellipse cx="474.86" cy="42.91" rx="2.1" ry="2.0"/><ellipse cx="475.62" cy="45.07" rx="2.1" ry="2.0"/><ellipse cx="476.39" cy="52.78" rx="2.1" ry="2.0"/><ellipse cx="477.15" cy="37.87" rx="2.1" ry="2.0"/><ellipse cx="477.92" cy="37.20" rx="2.1" ry="2.0"/><ellipse cx="478.68" cy="36.27" rx="2.1" ry="2.0"/><ellipse cx="479.45" cy="38.11" rx="2.1" ry="2.0"/><ellipse cx="480.21" cy="35.92" rx="2.1" ry="2.0"/><ellipse cx="480.98" cy="37.42" rx="2.1" ry="2.0"/><ellipse cx="481.74" cy="38.71" rx="2.1" ry="2.0"/><ellipse cx="482.51" cy="38.63" rx="2.1" ry="2.0"/><ellipse cx="483.27" cy="38.76" rx="2.1" ry="2.0"/><ellipse cx="484.04" cy="33.45" rx="2.1" ry="2.0"/><ellipse cx="484.80" cy="35.50" rx="2.1" ry="2.0"/><ellipse cx="485.57" cy="37.12" rx="2.1" ry="2.0"/><ellipse cx="486.33" cy="31.57" rx="2.1" ry="2.0"/><ellipse cx="487.10" cy="35.30" rx="2.1" ry="2.0"/><ellipse cx="487.86" cy="31.73" rx="2.1" ry="2.0"/><ellipse cx="488.63" cy="30.46" rx="2.1" ry="2.0"/><ellipse cx="489.39" cy="24.61" rx="2.1" ry="2.0"/><ellipse cx="490.16" cy="30.64" rx="2.1" ry="2.0"/><ellipse cx="490.92" cy="33.70" rx="2.1" ry="2.0"/><ellipse cx="491.69" cy="28.19" rx="2.1" ry="2.0"/><ellipse cx="492.45" cy="36.92" rx="2.1" ry="2.0"/><ellipse cx="493.22" cy="30.46" rx="2.1" ry="2.0"/><ellipse cx="493.98" cy="22.35" rx="2.1" ry="2.0"/><ellipse cx="494.75" cy="37.64" rx="2.1" ry="2.0"/><ellipse cx="495.51" cy="33.77" rx="2.1" ry="2.0"/><ellipse cx="496.28" cy="29.63" rx="2.1" ry="2.0"/><ellipse cx="497.04" cy="30.41" rx="2.1" ry="2.0"/><ellipse cx="497.81" cy="33.50" rx="2.1" ry="2.0"/><ellipse cx="498.57" cy="28.76" rx="2.1" ry="2.0"/><ellipse cx="499.34" cy="29.37" rx="2.1" ry="2.0"/><ellipse cx="500.10" cy="34.08" rx="2.1" ry="2.0"/><ellipse cx="500.87" cy="34.30" rx="2.1" ry="2.0"/><ellipse cx="501.63" cy="24.81" rx="2.1" ry="2.0"/><ellipse cx="502.40" cy="33.98" rx="2.1" ry="2.0"/><ellipse cx="503.16" cy="28.92" rx="2.1" ry="2.0"/><ellipse cx="503.93" cy="31.45" rx="2.1" ry="2.0"/><ellipse cx="504.69" cy="23.56" rx="2.1" ry="2.0"/><ellipse cx="505.46" cy="27.84" rx="2.1" ry="2.0"/><ellipse cx="506.22" cy="29.79" rx="2.1" ry="2.0"/><ellipse cx="506.99" cy="29.50" rx="2.1" ry="2.0"/><ellipse cx="507.75" cy="31.47" rx="2.1" ry="2.0"/><ellipse cx="508.52" cy="25.42" rx="2.1" ry="2.0"/><ellipse cx="509.28" cy="28.37" rx="2.1" ry="2.0"/><ellipse cx="510.05" cy="29.91" rx="2.1" ry="2.0"/><ellipse cx="510.81" cy="29.03" rx="2.1" ry="2.0"/><ellipse cx="511.58" cy="24.42" rx="2.1" ry="2.0"/><ellipse cx="512.35" cy="28.66" rx="2.1" ry="2.0"/><ellipse cx="513.11" cy="30.15" rx="2.1" ry="2.0"/><ellipse cx="513.88" cy="26.49" rx="2.1" ry="2.0"/><ellipse cx="514.64" cy="21.66" rx="2.1" ry="2.0"/><ellipse cx="515.40" cy="26.34" rx="2.1" ry="2.0"/><ellipse cx="516.17" cy="25.41" rx="2.1" ry="2.0"/><ellipse cx="516.93" cy="26.52" rx="2.1" ry="2.0"/><ellipse cx="517.70" cy="29.47" rx="2.1" ry="2.0"/><ellipse cx="518.46" cy="27.97" rx="2.1" ry="2.0"/><ellipse cx="519.23" cy="25.34" rx="2.1" ry="2.0"/><ellipse cx="520.00" cy="28.08" rx="2.1" ry="2.0"/><ellipse cx="520.76" cy="26.12" rx="2.1" ry="2.0"/><ellipse cx="521.52" cy="25.07" rx="2.1" ry="2.0"/><ellipse cx="522.29" cy="24.20" rx="2.1" ry="2.0"/><ellipse cx="523.05" cy="26.28" rx="2.1" ry="2.0"/><ellipse cx="523.82" cy="26.19" rx="2.1" ry="2.0"/><ellipse cx="524.58" cy="23.75" rx="2.1" ry="2.0"/><ellipse cx="525.35" cy="26.80" rx="2.1" ry="2.0"/><ellipse cx="526.12" cy="22.32" rx="2.1" ry="2.0"/><ellipse cx="526.88" cy="23.52" rx="2.1" ry="2.0"/><ellipse cx="527.64" cy="23.96" rx="2.1" ry="2.0"/><ellipse cx="528.41" cy="23.29" rx="2.1" ry="2.0"/><ellipse cx="529.17" cy="24.02" rx="2.1" ry="2.0"/><ellipse cx="529.94" cy="22.47" rx="2.1" ry="2.0"/><ellipse cx="530.70" cy="23.35" rx="2.1" ry="2.0"/><ellipse cx="531.47" cy="21.84" rx="2.1" ry="2.0"/><ellipse cx="532.24" cy="21.74" rx="2.1" ry="2.0"/><ellipse cx="533.00" cy="21.92" rx="2.1" ry="2.0"/><ellipse cx="533.76" cy="22.74" rx="2.1" ry="2.0"/><ellipse cx="534.53" cy="21.69" rx="2.1" ry="2.0"/><ellipse cx="535.29" cy="22.33" rx="2.1" ry="2.0"/><ellipse cx="536.06" cy="22.06" rx="2.1" ry="2.0"/><ellipse cx="536.82" cy="22.26" rx="2.1" ry="2.0"/><ellipse cx="537.59" cy="21.07" rx="2.1" ry="2.0"/><ellipse cx="538.36" cy="22.37" rx="2.1" ry="2.0"/><ellipse cx="539.12" cy="22.73" rx="2.1" ry="2.0"/><ellipse cx="539.88" cy="22.27" rx="2.1" ry="2.0"/></g></g>
<text transform="translate(494.02,11.20) scale(1.09,1)" text-anchor="middle" class="t">metrics/recall(M)</text>
<text transform="translate(435.15,113.35) scale(1.04,1)" text-anchor="end" class="k">0.50</text>
<text transform="translate(435.15,94.95) scale(1.04,1)" text-anchor="end" class="k">0.55</text>
<text transform="translate(435.15,76.50) scale(1.04,1)" text-anchor="end" class="k">0.60</text>
<text transform="translate(435.15,58.10) scale(1.04,1)" text-anchor="end" class="k">0.65</text>
<text transform="translate(435.15,39.70) scale(1.04,1)" text-anchor="end" class="k">0.70</text>
<text transform="translate(435.15,21.30) scale(1.04,1)" text-anchor="end" class="k">0.75</text>
<text transform="translate(448.65,140.80) scale(1.04,1)" text-anchor="middle" class="k">0</text>
<text transform="translate(486.90,140.80) scale(1.04,1)" text-anchor="middle" class="k">50</text>
<text transform="translate(525.15,140.80) scale(1.04,1)" text-anchor="middle" class="k">100</text>
<rect x="30.000" y="163.85" width="99.750" height="111.60" fill="#eaeaf2"/>
<path d="M34.700 163.85V275.45M72.950 163.85V275.45M111.200 163.85V275.45M30.000 260.6H129.750M30.000 236.3H129.750M30.000 211.95H129.750M30.000 187.6H129.750" stroke="#fff" stroke-width="0.9" fill="none"/>
<g clip-path="none"><path d="M34.70 270.80 L35.47 238.50 L36.23 252.60 L37.00 237.80 L37.76 242.60 L38.53 218.00 L39.29 216.00 L40.06 214.00 L40.82 210.40 L41.59 208.00 L42.35 205.00 L43.12 207.92 L43.88 202.70 L44.65 200.80 L45.41 200.32 L46.18 200.54 L46.94 198.93 L47.71 197.69 L48.47 194.00 L49.23 193.01 L50.00 192.09 L50.77 194.22 L51.53 191.18 L52.30 191.16 L53.06 187.41 L53.83 190.20 L54.59 191.41 L55.36 186.80 L56.12 185.27 L56.89 192.70 L57.65 183.85 L58.42 186.37 L59.18 187.92 L59.95 182.07 L60.71 183.14 L61.48 182.00 L62.24 182.40 L63.01 183.10 L63.77 180.33 L64.53 181.59 L65.30 179.53 L66.06 179.70 L66.83 180.94 L67.59 179.94 L68.36 179.26 L69.12 177.86 L69.89 177.56 L70.66 178.31 L71.42 177.38 L72.19 177.21 L72.95 176.66 L73.72 176.18 L74.48 176.90 L75.25 176.42 L76.01 175.23 L76.78 174.44 L77.54 174.54 L78.31 173.86 L79.07 174.32 L79.84 174.18 L80.60 172.81 L81.37 173.97 L82.13 173.77 L82.90 172.90 L83.66 172.78 L84.43 173.17 L85.19 173.51 L85.96 172.31 L86.72 171.39 L87.49 174.15 L88.25 171.67 L89.02 172.73 L89.78 170.27 L90.55 170.56 L91.31 171.16 L92.08 171.49 L92.84 170.45 L93.61 172.07 L94.37 170.79 L95.14 170.17 L95.90 170.22 L96.67 170.16 L97.43 169.84 L98.20 169.91 L98.96 168.97 L99.73 169.67 L100.49 169.68 L101.26 170.04 L102.02 169.45 L102.79 169.71 L103.55 169.38 L104.31 168.78 L105.08 169.45 L105.84 169.49 L106.61 168.33 L107.38 169.31 L108.14 168.79 L108.91 168.77 L109.67 168.82 L110.44 168.15 L111.20 168.21 L111.97 168.66 L112.73 168.24 L113.50 168.62 L114.26 168.43 L115.03 168.66 L115.79 168.38 L116.56 168.31 L117.32 168.15 L118.09 168.15 L118.85 168.15 L119.62 168.15 L120.38 168.15 L121.15 168.34 L121.91 168.15 L122.68 168.15 L123.44 168.15 L124.20 168.15 L124.97 168.15 L125.73 168.15" stroke="#4169b0" stroke-width="1.7" fill="none" stroke-linejoin="round" stroke-linecap="round"/>
<g fill="#4169b0"><ellipse cx="34.70" cy="270.80" rx="2.1" ry="2.0"/><ellipse cx="35.47" cy="238.50" rx="2.1" ry="2.0"/><ellipse cx="36.23" cy="252.60" rx="2.1" ry="2.0"/><ellipse cx="37.00" cy="237.80" rx="2.1" ry="2.0"/><ellipse cx="37.76" cy="242.60" rx="2.1" ry="2.0"/><ellipse cx="38.53" cy="218.00" rx="2.1" ry="2.0"/><ellipse cx="39.29" cy="216.00" rx="2.1" ry="2.0"/><ellipse cx="40.06" cy="214.00" rx="2.1" ry="2.0"/><ellipse cx="40.82" cy="210.40" rx="2.1" ry="2.0"/><ellipse cx="41.59" cy="208.00" rx="2.1" ry="2.0"/><ellipse cx="42.35" cy="205.00" rx="2.1" ry="2.0"/><ellipse cx="43.12" cy="207.92" rx="2.1" ry="2.0"/><ellipse cx="43.88" cy="202.70" rx="2.1" ry="2.0"/><ellipse cx="44.65" cy="200.80" rx="2.1" ry="2.0"/><ellipse cx="45.41" cy="200.32" rx="2.1" ry="2.0"/><ellipse cx="46.18" cy="200.54" rx="2.1" ry="2.0"/><ellipse cx="46.94" cy="198.93" rx="2.1" ry="2.0"/><ellipse cx="47.71" cy="197.69" rx="2.1" ry="2.0"/><ellipse cx="48.47" cy="194.00" rx="2.1" ry="2.0"/><ellipse cx="49.23" cy="193.01" rx="2.1" ry="2.0"/><ellipse cx="50.00" cy="192.09" rx="2.1" ry="2.0"/><ellipse cx="50.77" cy="194.22" rx="2.1" ry="2.0"/><ellipse cx="51.53" cy="191.18" rx="2.1" ry="2.0"/><ellipse cx="52.30" cy="191.16" rx="2.1" ry="2.0"/><ellipse cx="53.06" cy="187.41" rx="2.1" ry="2.0"/><ellipse cx="53.83" cy="190.20" rx="2.1" ry="2.0"/><ellipse cx="54.59" cy="191.41" rx="2.1" ry="2.0"/><ellipse cx="55.36" cy="186.80" rx="2.1" ry="2.0"/><ellipse cx="56.12" cy="185.27" rx="2.1" ry="2.0"/><ellipse cx="56.89" cy="192.70" rx="2.1" ry="2.0"/><ellipse cx="57.65" cy="183.85" rx="2.1" ry="2.0"/><ellipse cx="58.42" cy="186.37" rx="2.1" ry="2.0"/><ellipse cx="59.18" cy="187.92" rx="2.1" ry="2.0"/><ellipse cx="59.95" cy="182.07" rx="2.1" ry="2.0"/><ellipse cx="60.71" cy="183.14" rx="2.1" ry="2.0"/><ellipse cx="61.48" cy="182.00" rx="2.1" ry="2.0"/><ellipse cx="62.24" cy="182.40" rx="2.1" ry="2.0"/><ellipse cx="63.01" cy="183.10" rx="2.1" ry="2.0"/><ellipse cx="63.77" cy="180.33" rx="2.1" ry="2.0"/><ellipse cx="64.53" cy="181.59" rx="2.1" ry="2.0"/><ellipse cx="65.30" cy="179.53" rx="2.1" ry="2.0"/><ellipse cx="66.06" cy="179.70" rx="2.1" ry="2.0"/><ellipse cx="66.83" cy="180.94" rx="2.1" ry="2.0"/><ellipse cx="67.59" cy="179.94" rx="2.1" ry="2.0"/><ellipse cx="68.36" cy="179.26" rx="2.1" ry="2.0"/><ellipse cx="69.12" cy="177.86" rx="2.1" ry="2.0"/><ellipse cx="69.89" cy="177.56" rx="2.1" ry="2.0"/><ellipse cx="70.66" cy="178.31" rx="2.1" ry="2.0"/><ellipse cx="71.42" cy="177.38" rx="2.1" ry="2.0"/><ellipse cx="72.19" cy="177.21" rx="2.1" ry="2.0"/><ellipse cx="72.95" cy="176.66" rx="2.1" ry="2.0"/><ellipse cx="73.72" cy="176.18" rx="2.1" ry="2.0"/><ellipse cx="74.48" cy="176.90" rx="2.1" ry="2.0"/><ellipse cx="75.25" cy="176.42" rx="2.1" ry="2.0"/><ellipse cx="76.01" cy="175.23" rx="2.1" ry="2.0"/><ellipse cx="76.78" cy="174.44" rx="2.1" ry="2.0"/><ellipse cx="77.54" cy="174.54" rx="2.1" ry="2.0"/><ellipse cx="78.31" cy="173.86" rx="2.1" ry="2.0"/><ellipse cx="79.07" cy="174.32" rx="2.1" ry="2.0"/><ellipse cx="79.84" cy="174.18" rx="2.1" ry="2.0"/><ellipse cx="80.60" cy="172.81" rx="2.1" ry="2.0"/><ellipse cx="81.37" cy="173.97" rx="2.1" ry="2.0"/><ellipse cx="82.13" cy="173.77" rx="2.1" ry="2.0"/><ellipse cx="82.90" cy="172.90" rx="2.1" ry="2.0"/><ellipse cx="83.66" cy="172.78" rx="2.1" ry="2.0"/><ellipse cx="84.43" cy="173.17" rx="2.1" ry="2.0"/><ellipse cx="85.19" cy="173.51" rx="2.1" ry="2.0"/><ellipse cx="85.96" cy="172.31" rx="2.1" ry="2.0"/><ellipse cx="86.72" cy="171.39" rx="2.1" ry="2.0"/><ellipse cx="87.49" cy="174.15" rx="2.1" ry="2.0"/><ellipse cx="88.25" cy="171.67" rx="2.1" ry="2.0"/><ellipse cx="89.02" cy="172.73" rx="2.1" ry="2.0"/><ellipse cx="89.78" cy="170.27" rx="2.1" ry="2.0"/><ellipse cx="90.55" cy="170.56" rx="2.1" ry="2.0"/><ellipse cx="91.31" cy="171.16" rx="2.1" ry="2.0"/><ellipse cx="92.08" cy="171.49" rx="2.1" ry="2.0"/><ellipse cx="92.84" cy="170.45" rx="2.1" ry="2.0"/><ellipse cx="93.61" cy="172.07" rx="2.1" ry="2.0"/><ellipse cx="94.37" cy="170.79" rx="2.1" ry="2.0"/><ellipse cx="95.14" cy="170.17" rx="2.1" ry="2.0"/><ellipse cx="95.90" cy="170.22" rx="2.1" ry="2.0"/><ellipse cx="96.67" cy="170.16" rx="2.1" ry="2.0"/><ellipse cx="97.43" cy="169.84" rx="2.1" ry="2.0"/><ellipse cx="98.20" cy="169.91" rx="2.1" ry="2.0"/><ellipse cx="98.96" cy="168.97" rx="2.1" ry="2.0"/><ellipse cx="99.73" cy="169.67" rx="2.1" ry="2.0"/><ellipse cx="100.49" cy="169.68" rx="2.1" ry="2.0"/><ellipse cx="101.26" cy="170.04" rx="2.1" ry="2.0"/><ellipse cx="102.02" cy="169.45" rx="2.1" ry="2.0"/><ellipse cx="102.79" cy="169.71" rx="2.1" ry="2.0"/><ellipse cx="103.55" cy="169.38" rx="2.1" ry="2.0"/><ellipse cx="104.31" cy="168.78" rx="2.1" ry="2.0"/><ellipse cx="105.08" cy="169.45" rx="2.1" ry="2.0"/><ellipse cx="105.84" cy="169.49" rx="2.1" ry="2.0"/><ellipse cx="106.61" cy="168.33" rx="2.1" ry="2.0"/><ellipse cx="107.38" cy="169.31" rx="2.1" ry="2.0"/><ellipse cx="108.14" cy="168.79" rx="2.1" ry="2.0"/><ellipse cx="108.91" cy="168.77" rx="2.1" ry="2.0"/><ellipse cx="109.67" cy="168.82" rx="2.1" ry="2.0"/><ellipse cx="110.44" cy="168.15" rx="2.1" ry="2.0"/><ellipse cx="111.20" cy="168.21" rx="2.1" ry="2.0"/><ellipse cx="111.97" cy="168.66" rx="2.1" ry="2.0"/><ellipse cx="112.73" cy="168.24" rx="2.1" ry="2.0"/><ellipse cx="113.50" cy="168.62" rx="2.1" ry="2.0"/><ellipse cx="114.26" cy="168.43" rx="2.1" ry="2.0"/><ellipse cx="115.03" cy="168.66" rx="2.1" ry="2.0"/><ellipse cx="115.79" cy="168.38" rx="2.1" ry="2.0"/><ellipse cx="116.56" cy="168.31" rx="2.1" ry="2.0"/><ellipse cx="117.32" cy="168.15" rx="2.1" ry="2.0"/><ellipse cx="118.09" cy="168.15" rx="2.1" ry="2.0"/><ellipse cx="118.85" cy="168.15" rx="2.1" ry="2.0"/><ellipse cx="119.62" cy="168.15" rx="2.1" ry="2.0"/><ellipse cx="120.38" cy="168.15" rx="2.1" ry="2.0"/><ellipse cx="121.15" cy="168.34" rx="2.1" ry="2.0"/><ellipse cx="121.91" cy="168.15" rx="2.1" ry="2.0"/><ellipse cx="122.68" cy="168.15" rx="2.1" ry="2.0"/><ellipse cx="123.44" cy="168.15" rx="2.1" ry="2.0"/><ellipse cx="124.20" cy="168.15" rx="2.1" ry="2.0"/><ellipse cx="124.97" cy="168.15" rx="2.1" ry="2.0"/><ellipse cx="125.73" cy="168.15" rx="2.1" ry="2.0"/></g></g>
<text transform="translate(79.88,157.85) scale(1.09,1)" text-anchor="middle" class="t">metrics/mAP50(B)</text>
<text transform="translate(21.00,263.30) scale(1.04,1)" text-anchor="end" class="k">0.5</text>
<text transform="translate(21.00,239.00) scale(1.04,1)" text-anchor="end" class="k">0.6</text>
<text transform="translate(21.00,214.65) scale(1.04,1)" text-anchor="end" class="k">0.7</text>
<text transform="translate(21.00,190.30) scale(1.04,1)" text-anchor="end" class="k">0.8</text>
<text transform="translate(21.00,166.00) scale(1.04,1)" text-anchor="end" class="k">0.9</text>
<text transform="translate(34.50,288.85) scale(1.04,1)" text-anchor="middle" class="k">0</text>
<text transform="translate(72.75,288.85) scale(1.04,1)" text-anchor="middle" class="k">50</text>
<text transform="translate(111.00,288.85) scale(1.04,1)" text-anchor="middle" class="k">100</text>
<rect x="168.050" y="163.85" width="99.750" height="111.60" fill="#eaeaf2"/>
<path d="M172.750 163.85V275.45M211.000 163.85V275.45M249.250 163.85V275.45M168.050 248.3H267.800M168.050 217.4H267.800M168.050 186.5H267.800" stroke="#fff" stroke-width="0.9" fill="none"/>
<g clip-path="none"><path d="M172.75 270.80 L173.51 245.00 L174.28 261.00 L175.04 243.30 L175.81 243.80 L176.57 224.20 L177.34 222.00 L178.10 221.00 L178.87 217.50 L179.63 216.00 L180.40 214.70 L181.16 212.00 L181.93 210.40 L182.69 207.07 L183.46 203.51 L184.22 201.65 L184.99 200.63 L185.75 201.27 L186.52 203.44 L187.28 195.36 L188.05 197.93 L188.81 198.15 L189.58 195.28 L190.34 193.56 L191.11 193.70 L191.88 192.87 L192.64 192.34 L193.41 195.04 L194.17 189.13 L194.94 189.87 L195.70 191.88 L196.47 188.26 L197.23 187.73 L198.00 191.31 L198.76 187.90 L199.53 188.70 L200.29 188.05 L201.06 186.99 L201.82 186.38 L202.59 187.05 L203.35 184.49 L204.12 184.74 L204.88 183.21 L205.65 181.88 L206.41 183.53 L207.18 182.63 L207.94 181.42 L208.70 180.70 L209.47 180.54 L210.24 179.44 L211.00 179.31 L211.76 178.85 L212.53 178.73 L213.30 178.67 L214.06 178.33 L214.82 177.80 L215.59 178.18 L216.36 175.89 L217.12 176.71 L217.88 174.57 L218.65 176.00 L219.41 176.80 L220.18 175.71 L220.94 175.03 L221.71 173.62 L222.47 174.79 L223.24 175.12 L224.00 172.80 L224.77 174.22 L225.53 173.61 L226.30 173.14 L227.06 172.14 L227.83 173.91 L228.59 172.84 L229.36 171.80 L230.12 171.97 L230.89 171.88 L231.66 171.35 L232.42 172.05 L233.19 171.64 L233.95 169.74 L234.72 170.08 L235.48 170.27 L236.25 170.31 L237.01 170.23 L237.78 169.65 L238.54 169.54 L239.31 170.46 L240.07 170.25 L240.84 169.71 L241.60 169.43 L242.37 168.93 L243.13 169.89 L243.89 169.67 L244.66 169.28 L245.43 168.86 L246.19 169.69 L246.95 169.34 L247.72 168.95 L248.49 168.76 L249.25 168.64 L250.01 168.66 L250.78 168.32 L251.55 168.53 L252.31 168.79 L253.07 169.01 L253.84 168.65 L254.61 168.15 L255.37 168.25 L256.13 168.15 L256.90 168.24 L257.67 168.15 L258.43 168.36 L259.19 168.64 L259.96 168.42 L260.73 168.15 L261.49 168.32 L262.25 168.15 L263.02 168.15 L263.78 168.15" stroke="#4169b0" stroke-width="1.7" fill="none" stroke-linejoin="round" stroke-linecap="round"/>
<g fill="#4169b0"><ellipse cx="172.75" cy="270.80" rx="2.1" ry="2.0"/><ellipse cx="173.51" cy="245.00" rx="2.1" ry="2.0"/><ellipse cx="174.28" cy="261.00" rx="2.1" ry="2.0"/><ellipse cx="175.04" cy="243.30" rx="2.1" ry="2.0"/><ellipse cx="175.81" cy="243.80" rx="2.1" ry="2.0"/><ellipse cx="176.57" cy="224.20" rx="2.1" ry="2.0"/><ellipse cx="177.34" cy="222.00" rx="2.1" ry="2.0"/><ellipse cx="178.10" cy="221.00" rx="2.1" ry="2.0"/><ellipse cx="178.87" cy="217.50" rx="2.1" ry="2.0"/><ellipse cx="179.63" cy="216.00" rx="2.1" ry="2.0"/><ellipse cx="180.40" cy="214.70" rx="2.1" ry="2.0"/><ellipse cx="181.16" cy="212.00" rx="2.1" ry="2.0"/><ellipse cx="181.93" cy="210.40" rx="2.1" ry="2.0"/><ellipse cx="182.69" cy="207.07" rx="2.1" ry="2.0"/><ellipse cx="183.46" cy="203.51" rx="2.1" ry="2.0"/><ellipse cx="184.22" cy="201.65" rx="2.1" ry="2.0"/><ellipse cx="184.99" cy="200.63" rx="2.1" ry="2.0"/><ellipse cx="185.75" cy="201.27" rx="2.1" ry="2.0"/><ellipse cx="186.52" cy="203.44" rx="2.1" ry="2.0"/><ellipse cx="187.28" cy="195.36" rx="2.1" ry="2.0"/><ellipse cx="188.05" cy="197.93" rx="2.1" ry="2.0"/><ellipse cx="188.81" cy="198.15" rx="2.1" ry="2.0"/><ellipse cx="189.58" cy="195.28" rx="2.1" ry="2.0"/><ellipse cx="190.34" cy="193.56" rx="2.1" ry="2.0"/><ellipse cx="191.11" cy="193.70" rx="2.1" ry="2.0"/><ellipse cx="191.88" cy="192.87" rx="2.1" ry="2.0"/><ellipse cx="192.64" cy="192.34" rx="2.1" ry="2.0"/><ellipse cx="193.41" cy="195.04" rx="2.1" ry="2.0"/><ellipse cx="194.17" cy="189.13" rx="2.1" ry="2.0"/><ellipse cx="194.94" cy="189.87" rx="2.1" ry="2.0"/><ellipse cx="195.70" cy="191.88" rx="2.1" ry="2.0"/><ellipse cx="196.47" cy="188.26" rx="2.1" ry="2.0"/><ellipse cx="197.23" cy="187.73" rx="2.1" ry="2.0"/><ellipse cx="198.00" cy="191.31" rx="2.1" ry="2.0"/><ellipse cx="198.76" cy="187.90" rx="2.1" ry="2.0"/><ellipse cx="199.53" cy="188.70" rx="2.1" ry="2.0"/><ellipse cx="200.29" cy="188.05" rx="2.1" ry="2.0"/><ellipse cx="201.06" cy="186.99" rx="2.1" ry="2.0"/><ellipse cx="201.82" cy="186.38" rx="2.1" ry="2.0"/><ellipse cx="202.59" cy="187.05" rx="2.1" ry="2.0"/><ellipse cx="203.35" cy="184.49" rx="2.1" ry="2.0"/><ellipse cx="204.12" cy="184.74" rx="2.1" ry="2.0"/><ellipse cx="204.88" cy="183.21" rx="2.1" ry="2.0"/><ellipse cx="205.65" cy="181.88" rx="2.1" ry="2.0"/><ellipse cx="206.41" cy="183.53" rx="2.1" ry="2.0"/><ellipse cx="207.18" cy="182.63" rx="2.1" ry="2.0"/><ellipse cx="207.94" cy="181.42" rx="2.1" ry="2.0"/><ellipse cx="208.70" cy="180.70" rx="2.1" ry="2.0"/><ellipse cx="209.47" cy="180.54" rx="2.1" ry="2.0"/><ellipse cx="210.24" cy="179.44" rx="2.1" ry="2.0"/><ellipse cx="211.00" cy="179.31" rx="2.1" ry="2.0"/><ellipse cx="211.76" cy="178.85" rx="2.1" ry="2.0"/><ellipse cx="212.53" cy="178.73" rx="2.1" ry="2.0"/><ellipse cx="213.30" cy="178.67" rx="2.1" ry="2.0"/><ellipse cx="214.06" cy="178.33" rx="2.1" ry="2.0"/><ellipse cx="214.82" cy="177.80" rx="2.1" ry="2.0"/><ellipse cx="215.59" cy="178.18" rx="2.1" ry="2.0"/><ellipse cx="216.36" cy="175.89" rx="2.1" ry="2.0"/><ellipse cx="217.12" cy="176.71" rx="2.1" ry="2.0"/><ellipse cx="217.88" cy="174.57" rx="2.1" ry="2.0"/><ellipse cx="218.65" cy="176.00" rx="2.1" ry="2.0"/><ellipse cx="219.41" cy="176.80" rx="2.1" ry="2.0"/><ellipse cx="220.18" cy="175.71" rx="2.1" ry="2.0"/><ellipse cx="220.94" cy="175.03" rx="2.1" ry="2.0"/><ellipse cx="221.71" cy="173.62" rx="2.1" ry="2.0"/><ellipse cx="222.47" cy="174.79" rx="2.1" ry="2.0"/><ellipse cx="223.24" cy="175.12" rx="2.1" ry="2.0"/><ellipse cx="224.00" cy="172.80" rx="2.1" ry="2.0"/><ellipse cx="224.77" cy="174.22" rx="2.1" ry="2.0"/><ellipse cx="225.53" cy="173.61" rx="2.1" ry="2.0"/><ellipse cx="226.30" cy="173.14" rx="2.1" ry="2.0"/><ellipse cx="227.06" cy="172.14" rx="2.1" ry="2.0"/><ellipse cx="227.83" cy="173.91" rx="2.1" ry="2.0"/><ellipse cx="228.59" cy="172.84" rx="2.1" ry="2.0"/><ellipse cx="229.36" cy="171.80" rx="2.1" ry="2.0"/><ellipse cx="230.12" cy="171.97" rx="2.1" ry="2.0"/><ellipse cx="230.89" cy="171.88" rx="2.1" ry="2.0"/><ellipse cx="231.66" cy="171.35" rx="2.1" ry="2.0"/><ellipse cx="232.42" cy="172.05" rx="2.1" ry="2.0"/><ellipse cx="233.19" cy="171.64" rx="2.1" ry="2.0"/><ellipse cx="233.95" cy="169.74" rx="2.1" ry="2.0"/><ellipse cx="234.72" cy="170.08" rx="2.1" ry="2.0"/><ellipse cx="235.48" cy="170.27" rx="2.1" ry="2.0"/><ellipse cx="236.25" cy="170.31" rx="2.1" ry="2.0"/><ellipse cx="237.01" cy="170.23" rx="2.1" ry="2.0"/><ellipse cx="237.78" cy="169.65" rx="2.1" ry="2.0"/><ellipse cx="238.54" cy="169.54" rx="2.1" ry="2.0"/><ellipse cx="239.31" cy="170.46" rx="2.1" ry="2.0"/><ellipse cx="240.07" cy="170.25" rx="2.1" ry="2.0"/><ellipse cx="240.84" cy="169.71" rx="2.1" ry="2.0"/><ellipse cx="241.60" cy="169.43" rx="2.1" ry="2.0"/><ellipse cx="242.37" cy="168.93" rx="2.1" ry="2.0"/><ellipse cx="243.13" cy="169.89" rx="2.1" ry="2.0"/><ellipse cx="243.89" cy="169.67" rx="2.1" ry="2.0"/><ellipse cx="244.66" cy="169.28" rx="2.1" ry="2.0"/><ellipse cx="245.43" cy="168.86" rx="2.1" ry="2.0"/><ellipse cx="246.19" cy="169.69" rx="2.1" ry="2.0"/><ellipse cx="246.95" cy="169.34" rx="2.1" ry="2.0"/><ellipse cx="247.72" cy="168.95" rx="2.1" ry="2.0"/><ellipse cx="248.49" cy="168.76" rx="2.1" ry="2.0"/><ellipse cx="249.25" cy="168.64" rx="2.1" ry="2.0"/><ellipse cx="250.01" cy="168.66" rx="2.1" ry="2.0"/><ellipse cx="250.78" cy="168.32" rx="2.1" ry="2.0"/><ellipse cx="251.55" cy="168.53" rx="2.1" ry="2.0"/><ellipse cx="252.31" cy="168.79" rx="2.1" ry="2.0"/><ellipse cx="253.07" cy="169.01" rx="2.1" ry="2.0"/><ellipse cx="253.84" cy="168.65" rx="2.1" ry="2.0"/><ellipse cx="254.61" cy="168.15" rx="2.1" ry="2.0"/><ellipse cx="255.37" cy="168.25" rx="2.1" ry="2.0"/><ellipse cx="256.13" cy="168.15" rx="2.1" ry="2.0"/><ellipse cx="256.90" cy="168.24" rx="2.1" ry="2.0"/><ellipse cx="257.67" cy="168.15" rx="2.1" ry="2.0"/><ellipse cx="258.43" cy="168.36" rx="2.1" ry="2.0"/><ellipse cx="259.19" cy="168.64" rx="2.1" ry="2.0"/><ellipse cx="259.96" cy="168.42" rx="2.1" ry="2.0"/><ellipse cx="260.73" cy="168.15" rx="2.1" ry="2.0"/><ellipse cx="261.49" cy="168.32" rx="2.1" ry="2.0"/><ellipse cx="262.25" cy="168.15" rx="2.1" ry="2.0"/><ellipse cx="263.02" cy="168.15" rx="2.1" ry="2.0"/><ellipse cx="263.78" cy="168.15" rx="2.1" ry="2.0"/></g></g>
<text transform="translate(217.93,157.85) scale(1.09,1)" text-anchor="middle" class="t">metrics/mAP50-95(B)</text>
<text transform="translate(159.05,251.00) scale(1.04,1)" text-anchor="end" class="k">0.3</text>
<text transform="translate(159.05,220.10) scale(1.04,1)" text-anchor="end" class="k">0.4</text>
<text transform="translate(159.05,189.20) scale(1.04,1)" text-anchor="end" class="k">0.5</text>
<text transform="translate(172.55,288.85) scale(1.04,1)" text-anchor="middle" class="k">0</text>
<text transform="translate(210.80,288.85) scale(1.04,1)" text-anchor="middle" class="k">50</text>
<text transform="translate(249.05,288.85) scale(1.04,1)" text-anchor="middle" class="k">100</text>
<rect x="306.100" y="163.85" width="99.750" height="111.60" fill="#eaeaf2"/>
<path d="M310.800 163.85V275.45M349.050 163.85V275.45M387.300 163.85V275.45M306.100 254.4H405.850M306.100 224.0H405.850M306.100 193.5H405.850" stroke="#fff" stroke-width="0.9" fill="none"/>
<g clip-path="none"><path d="M310.80 270.80 L311.56 231.90 L312.33 248.60 L313.10 236.20 L313.86 243.30 L314.62 217.50 L315.39 214.70 L316.16 216.00 L316.92 215.60 L317.69 213.00 L318.45 211.60 L319.22 209.00 L319.98 199.34 L320.75 198.34 L321.51 205.36 L322.28 207.25 L323.04 199.51 L323.81 197.32 L324.57 197.52 L325.34 197.57 L326.10 198.17 L326.87 200.72 L327.63 199.80 L328.39 191.09 L329.16 189.16 L329.93 193.26 L330.69 190.97 L331.46 193.12 L332.22 183.95 L332.99 191.48 L333.75 193.12 L334.51 187.50 L335.28 186.54 L336.05 185.25 L336.81 183.41 L337.57 177.32 L338.34 178.37 L339.11 183.56 L339.87 182.56 L340.63 179.40 L341.40 186.23 L342.17 177.81 L342.93 179.73 L343.69 179.19 L344.46 183.38 L345.23 177.70 L345.99 177.51 L346.75 182.30 L347.52 177.14 L348.29 175.53 L349.05 174.06 L349.81 175.65 L350.58 176.03 L351.35 172.69 L352.11 178.76 L352.88 174.60 L353.64 174.31 L354.41 178.70 L355.17 174.39 L355.94 171.79 L356.70 179.70 L357.47 172.42 L358.23 171.32 L359.00 178.24 L359.76 173.51 L360.53 168.15 L361.29 174.44 L362.06 171.39 L362.82 173.53 L363.59 172.29 L364.35 175.11 L365.12 169.60 L365.88 168.98 L366.64 171.47 L367.41 169.68 L368.18 169.66 L368.94 170.33 L369.71 168.15 L370.47 169.61 L371.24 169.34 L372.00 170.15 L372.76 169.99 L373.53 170.13 L374.30 170.49 L375.06 168.29 L375.83 170.59 L376.59 169.84 L377.36 169.58 L378.12 168.68 L378.88 168.15 L379.65 168.55 L380.42 169.65 L381.18 168.15 L381.94 168.15 L382.71 168.15 L383.48 168.39 L384.24 168.88 L385.00 169.38 L385.77 168.15 L386.54 169.79 L387.30 170.18 L388.06 168.57 L388.83 169.37 L389.60 169.02 L390.36 170.14 L391.12 169.28 L391.89 168.75 L392.66 169.24 L393.42 168.39 L394.19 168.49 L394.95 168.92 L395.72 168.33 L396.48 168.39 L397.25 168.30 L398.01 168.47 L398.78 168.36 L399.54 168.15 L400.31 168.15 L401.07 168.15 L401.84 168.15" stroke="#4169b0" stroke-width="1.7" fill="none" stroke-linejoin="round" stroke-linecap="round"/>
<g fill="#4169b0"><ellipse cx="310.80" cy="270.80" rx="2.1" ry="2.0"/><ellipse cx="311.56" cy="231.90" rx="2.1" ry="2.0"/><ellipse cx="312.33" cy="248.60" rx="2.1" ry="2.0"/><ellipse cx="313.10" cy="236.20" rx="2.1" ry="2.0"/><ellipse cx="313.86" cy="243.30" rx="2.1" ry="2.0"/><ellipse cx="314.62" cy="217.50" rx="2.1" ry="2.0"/><ellipse cx="315.39" cy="214.70" rx="2.1" ry="2.0"/><ellipse cx="316.16" cy="216.00" rx="2.1" ry="2.0"/><ellipse cx="316.92" cy="215.60" rx="2.1" ry="2.0"/><ellipse cx="317.69" cy="213.00" rx="2.1" ry="2.0"/><ellipse cx="318.45" cy="211.60" rx="2.1" ry="2.0"/><ellipse cx="319.22" cy="209.00" rx="2.1" ry="2.0"/><ellipse cx="319.98" cy="199.34" rx="2.1" ry="2.0"/><ellipse cx="320.75" cy="198.34" rx="2.1" ry="2.0"/><ellipse cx="321.51" cy="205.36" rx="2.1" ry="2.0"/><ellipse cx="322.28" cy="207.25" rx="2.1" ry="2.0"/><ellipse cx="323.04" cy="199.51" rx="2.1" ry="2.0"/><ellipse cx="323.81" cy="197.32" rx="2.1" ry="2.0"/><ellipse cx="324.57" cy="197.52" rx="2.1" ry="2.0"/><ellipse cx="325.34" cy="197.57" rx="2.1" ry="2.0"/><ellipse cx="326.10" cy="198.17" rx="2.1" ry="2.0"/><ellipse cx="326.87" cy="200.72" rx="2.1" ry="2.0"/><ellipse cx="327.63" cy="199.80" rx="2.1" ry="2.0"/><ellipse cx="328.39" cy="191.09" rx="2.1" ry="2.0"/><ellipse cx="329.16" cy="189.16" rx="2.1" ry="2.0"/><ellipse cx="329.93" cy="193.26" rx="2.1" ry="2.0"/><ellipse cx="330.69" cy="190.97" rx="2.1" ry="2.0"/><ellipse cx="331.46" cy="193.12" rx="2.1" ry="2.0"/><ellipse cx="332.22" cy="183.95" rx="2.1" ry="2.0"/><ellipse cx="332.99" cy="191.48" rx="2.1" ry="2.0"/><ellipse cx="333.75" cy="193.12" rx="2.1" ry="2.0"/><ellipse cx="334.51" cy="187.50" rx="2.1" ry="2.0"/><ellipse cx="335.28" cy="186.54" rx="2.1" ry="2.0"/><ellipse cx="336.05" cy="185.25" rx="2.1" ry="2.0"/><ellipse cx="336.81" cy="183.41" rx="2.1" ry="2.0"/><ellipse cx="337.57" cy="177.32" rx="2.1" ry="2.0"/><ellipse cx="338.34" cy="178.37" rx="2.1" ry="2.0"/><ellipse cx="339.11" cy="183.56" rx="2.1" ry="2.0"/><ellipse cx="339.87" cy="182.56" rx="2.1" ry="2.0"/><ellipse cx="340.63" cy="179.40" rx="2.1" ry="2.0"/><ellipse cx="341.40" cy="186.23" rx="2.1" ry="2.0"/><ellipse cx="342.17" cy="177.81" rx="2.1" ry="2.0"/><ellipse cx="342.93" cy="179.73" rx="2.1" ry="2.0"/><ellipse cx="343.69" cy="179.19" rx="2.1" ry="2.0"/><ellipse cx="344.46" cy="183.38" rx="2.1" ry="2.0"/><ellipse cx="345.23" cy="177.70" rx="2.1" ry="2.0"/><ellipse cx="345.99" cy="177.51" rx="2.1" ry="2.0"/><ellipse cx="346.75" cy="182.30" rx="2.1" ry="2.0"/><ellipse cx="347.52" cy="177.14" rx="2.1" ry="2.0"/><ellipse cx="348.29" cy="175.53" rx="2.1" ry="2.0"/><ellipse cx="349.05" cy="174.06" rx="2.1" ry="2.0"/><ellipse cx="349.81" cy="175.65" rx="2.1" ry="2.0"/><ellipse cx="350.58" cy="176.03" rx="2.1" ry="2.0"/><ellipse cx="351.35" cy="172.69" rx="2.1" ry="2.0"/><ellipse cx="352.11" cy="178.76" rx="2.1" ry="2.0"/><ellipse cx="352.88" cy="174.60" rx="2.1" ry="2.0"/><ellipse cx="353.64" cy="174.31" rx="2.1" ry="2.0"/><ellipse cx="354.41" cy="178.70" rx="2.1" ry="2.0"/><ellipse cx="355.17" cy="174.39" rx="2.1" ry="2.0"/><ellipse cx="355.94" cy="171.79" rx="2.1" ry="2.0"/><ellipse cx="356.70" cy="179.70" rx="2.1" ry="2.0"/><ellipse cx="357.47" cy="172.42" rx="2.1" ry="2.0"/><ellipse cx="358.23" cy="171.32" rx="2.1" ry="2.0"/><ellipse cx="359.00" cy="178.24" rx="2.1" ry="2.0"/><ellipse cx="359.76" cy="173.51" rx="2.1" ry="2.0"/><ellipse cx="360.53" cy="168.15" rx="2.1" ry="2.0"/><ellipse cx="361.29" cy="174.44" rx="2.1" ry="2.0"/><ellipse cx="362.06" cy="171.39" rx="2.1" ry="2.0"/><ellipse cx="362.82" cy="173.53" rx="2.1" ry="2.0"/><ellipse cx="363.59" cy="172.29" rx="2.1" ry="2.0"/><ellipse cx="364.35" cy="175.11" rx="2.1" ry="2.0"/><ellipse cx="365.12" cy="169.60" rx="2.1" ry="2.0"/><ellipse cx="365.88" cy="168.98" rx="2.1" ry="2.0"/><ellipse cx="366.64" cy="171.47" rx="2.1" ry="2.0"/><ellipse cx="367.41" cy="169.68" rx="2.1" ry="2.0"/><ellipse cx="368.18" cy="169.66" rx="2.1" ry="2.0"/><ellipse cx="368.94" cy="170.33" rx="2.1" ry="2.0"/><ellipse cx="369.71" cy="168.15" rx="2.1" ry="2.0"/><ellipse cx="370.47" cy="169.61" rx="2.1" ry="2.0"/><ellipse cx="371.24" cy="169.34" rx="2.1" ry="2.0"/><ellipse cx="372.00" cy="170.15" rx="2.1" ry="2.0"/><ellipse cx="372.76" cy="169.99" rx="2.1" ry="2.0"/><ellipse cx="373.53" cy="170.13" rx="2.1" ry="2.0"/><ellipse cx="374.30" cy="170.49" rx="2.1" ry="2.0"/><ellipse cx="375.06" cy="168.29" rx="2.1" ry="2.0"/><ellipse cx="375.83" cy="170.59" rx="2.1" ry="2.0"/><ellipse cx="376.59" cy="169.84" rx="2.1" ry="2.0"/><ellipse cx="377.36" cy="169.58" rx="2.1" ry="2.0"/><ellipse cx="378.12" cy="168.68" rx="2.1" ry="2.0"/><ellipse cx="378.88" cy="168.15" rx="2.1" ry="2.0"/><ellipse cx="379.65" cy="168.55" rx="2.1" ry="2.0"/><ellipse cx="380.42" cy="169.65" rx="2.1" ry="2.0"/><ellipse cx="381.18" cy="168.15" rx="2.1" ry="2.0"/><ellipse cx="381.94" cy="168.15" rx="2.1" ry="2.0"/><ellipse cx="382.71" cy="168.15" rx="2.1" ry="2.0"/><ellipse cx="383.48" cy="168.39" rx="2.1" ry="2.0"/><ellipse cx="384.24" cy="168.88" rx="2.1" ry="2.0"/><ellipse cx="385.00" cy="169.38" rx="2.1" ry="2.0"/><ellipse cx="385.77" cy="168.15" rx="2.1" ry="2.0"/><ellipse cx="386.54" cy="169.79" rx="2.1" ry="2.0"/><ellipse cx="387.30" cy="170.18" rx="2.1" ry="2.0"/><ellipse cx="388.06" cy="168.57" rx="2.1" ry="2.0"/><ellipse cx="388.83" cy="169.37" rx="2.1" ry="2.0"/><ellipse cx="389.60" cy="169.02" rx="2.1" ry="2.0"/><ellipse cx="390.36" cy="170.14" rx="2.1" ry="2.0"/><ellipse cx="391.12" cy="169.28" rx="2.1" ry="2.0"/><ellipse cx="391.89" cy="168.75" rx="2.1" ry="2.0"/><ellipse cx="392.66" cy="169.24" rx="2.1" ry="2.0"/><ellipse cx="393.42" cy="168.39" rx="2.1" ry="2.0"/><ellipse cx="394.19" cy="168.49" rx="2.1" ry="2.0"/><ellipse cx="394.95" cy="168.92" rx="2.1" ry="2.0"/><ellipse cx="395.72" cy="168.33" rx="2.1" ry="2.0"/><ellipse cx="396.48" cy="168.39" rx="2.1" ry="2.0"/><ellipse cx="397.25" cy="168.30" rx="2.1" ry="2.0"/><ellipse cx="398.01" cy="168.47" rx="2.1" ry="2.0"/><ellipse cx="398.78" cy="168.36" rx="2.1" ry="2.0"/><ellipse cx="399.54" cy="168.15" rx="2.1" ry="2.0"/><ellipse cx="400.31" cy="168.15" rx="2.1" ry="2.0"/><ellipse cx="401.07" cy="168.15" rx="2.1" ry="2.0"/><ellipse cx="401.84" cy="168.15" rx="2.1" ry="2.0"/></g></g>
<text transform="translate(355.98,157.85) scale(1.09,1)" text-anchor="middle" class="t">metrics/mAP50(M)</text>
<text transform="translate(297.10,257.10) scale(1.04,1)" text-anchor="end" class="k">0.5</text>
<text transform="translate(297.10,226.70) scale(1.04,1)" text-anchor="end" class="k">0.6</text>
<text transform="translate(297.10,196.20) scale(1.04,1)" text-anchor="end" class="k">0.7</text>
<text transform="translate(297.10,165.80) scale(1.04,1)" text-anchor="end" class="k">0.8</text>
<text transform="translate(310.60,288.85) scale(1.04,1)" text-anchor="middle" class="k">0</text>
<text transform="translate(348.85,288.85) scale(1.04,1)" text-anchor="middle" class="k">50</text>
<text transform="translate(387.10,288.85) scale(1.04,1)" text-anchor="middle" class="k">100</text>
<rect x="444.150" y="163.85" width="99.750" height="111.60" fill="#eaeaf2"/>
<path d="M448.850 163.85V275.45M487.100 163.85V275.45M525.350 163.85V275.45M444.150 273.3H543.900M444.150 246.25H543.900M444.150 219.2H543.900M444.150 192.15H543.900M444.150 165.1H543.900" stroke="#fff" stroke-width="0.9" fill="none"/>
<g clip-path="none"><path d="M448.85 270.80 L449.61 234.70 L450.38 255.70 L451.14 235.40 L451.91 250.50 L452.67 224.70 L453.44 215.20 L454.20 220.00 L454.97 214.00 L455.73 216.00 L456.50 211.60 L457.26 213.00 L458.03 215.20 L458.79 210.00 L459.56 209.20 L460.32 212.00 L461.09 216.40 L461.85 201.86 L462.62 205.98 L463.38 187.50 L464.15 199.12 L464.91 192.14 L465.68 192.87 L466.44 194.58 L467.21 197.95 L467.97 194.77 L468.74 198.84 L469.50 196.50 L470.27 197.12 L471.03 195.95 L471.80 191.05 L472.56 192.27 L473.33 196.19 L474.09 191.16 L474.86 183.11 L475.62 191.54 L476.39 195.37 L477.15 195.39 L477.92 185.82 L478.68 186.28 L479.45 182.85 L480.21 190.47 L480.98 184.68 L481.74 183.91 L482.51 183.97 L483.27 185.63 L484.04 181.41 L484.80 187.65 L485.57 184.80 L486.33 182.77 L487.10 182.49 L487.86 181.02 L488.63 178.72 L489.39 185.85 L490.16 178.12 L490.92 179.54 L491.69 182.47 L492.45 184.38 L493.22 183.34 L493.98 180.03 L494.75 179.64 L495.51 174.10 L496.28 178.47 L497.04 176.49 L497.81 177.73 L498.57 182.86 L499.34 181.19 L500.10 184.13 L500.87 179.31 L501.63 179.66 L502.40 180.93 L503.16 173.68 L503.93 173.54 L504.69 176.85 L505.46 172.65 L506.22 172.82 L506.99 169.49 L507.75 173.25 L508.52 169.36 L509.28 172.95 L510.05 171.56 L510.81 173.27 L511.58 172.82 L512.35 172.73 L513.11 176.52 L513.88 174.83 L514.64 172.72 L515.40 173.15 L516.17 172.66 L516.93 172.70 L517.70 172.68 L518.46 171.40 L519.23 171.94 L520.00 171.02 L520.76 171.34 L521.52 170.27 L522.29 170.23 L523.05 170.01 L523.82 169.37 L524.58 170.80 L525.35 170.06 L526.12 169.70 L526.88 168.51 L527.64 170.23 L528.41 169.59 L529.17 168.65 L529.94 168.97 L530.70 168.15 L531.47 168.90 L532.24 168.48 L533.00 168.31 L533.76 168.64 L534.53 168.86 L535.29 168.83 L536.06 168.63 L536.82 168.32 L537.59 168.75 L538.36 168.75 L539.12 168.71 L539.88 168.53" stroke="#4169b0" stroke-width="1.7" fill="none" stroke-linejoin="round" stroke-linecap="round"/>
<g fill="#4169b0"><ellipse cx="448.85" cy="270.80" rx="2.1" ry="2.0"/><ellipse cx="449.61" cy="234.70" rx="2.1" ry="2.0"/><ellipse cx="450.38" cy="255.70" rx="2.1" ry="2.0"/><ellipse cx="451.14" cy="235.40" rx="2.1" ry="2.0"/><ellipse cx="451.91" cy="250.50" rx="2.1" ry="2.0"/><ellipse cx="452.67" cy="224.70" rx="2.1" ry="2.0"/><ellipse cx="453.44" cy="215.20" rx="2.1" ry="2.0"/><ellipse cx="454.20" cy="220.00" rx="2.1" ry="2.0"/><ellipse cx="454.97" cy="214.00" rx="2.1" ry="2.0"/><ellipse cx="455.73" cy="216.00" rx="2.1" ry="2.0"/><ellipse cx="456.50" cy="211.60" rx="2.1" ry="2.0"/><ellipse cx="457.26" cy="213.00" rx="2.1" ry="2.0"/><ellipse cx="458.03" cy="215.20" rx="2.1" ry="2.0"/><ellipse cx="458.79" cy="210.00" rx="2.1" ry="2.0"/><ellipse cx="459.56" cy="209.20" rx="2.1" ry="2.0"/><ellipse cx="460.32" cy="212.00" rx="2.1" ry="2.0"/><ellipse cx="461.09" cy="216.40" rx="2.1" ry="2.0"/><ellipse cx="461.85" cy="201.86" rx="2.1" ry="2.0"/><ellipse cx="462.62" cy="205.98" rx="2.1" ry="2.0"/><ellipse cx="463.38" cy="187.50" rx="2.1" ry="2.0"/><ellipse cx="464.15" cy="199.12" rx="2.1" ry="2.0"/><ellipse cx="464.91" cy="192.14" rx="2.1" ry="2.0"/><ellipse cx="465.68" cy="192.87" rx="2.1" ry="2.0"/><ellipse cx="466.44" cy="194.58" rx="2.1" ry="2.0"/><ellipse cx="467.21" cy="197.95" rx="2.1" ry="2.0"/><ellipse cx="467.97" cy="194.77" rx="2.1" ry="2.0"/><ellipse cx="468.74" cy="198.84" rx="2.1" ry="2.0"/><ellipse cx="469.50" cy="196.50" rx="2.1" ry="2.0"/><ellipse cx="470.27" cy="197.12" rx="2.1" ry="2.0"/><ellipse cx="471.03" cy="195.95" rx="2.1" ry="2.0"/><ellipse cx="471.80" cy="191.05" rx="2.1" ry="2.0"/><ellipse cx="472.56" cy="192.27" rx="2.1" ry="2.0"/><ellipse cx="473.33" cy="196.19" rx="2.1" ry="2.0"/><ellipse cx="474.09" cy="191.16" rx="2.1" ry="2.0"/><ellipse cx="474.86" cy="183.11" rx="2.1" ry="2.0"/><ellipse cx="475.62" cy="191.54" rx="2.1" ry="2.0"/><ellipse cx="476.39" cy="195.37" rx="2.1" ry="2.0"/><ellipse cx="477.15" cy="195.39" rx="2.1" ry="2.0"/><ellipse cx="477.92" cy="185.82" rx="2.1" ry="2.0"/><ellipse cx="478.68" cy="186.28" rx="2.1" ry="2.0"/><ellipse cx="479.45" cy="182.85" rx="2.1" ry="2.0"/><ellipse cx="480.21" cy="190.47" rx="2.1" ry="2.0"/><ellipse cx="480.98" cy="184.68" rx="2.1" ry="2.0"/><ellipse cx="481.74" cy="183.91" rx="2.1" ry="2.0"/><ellipse cx="482.51" cy="183.97" rx="2.1" ry="2.0"/><ellipse cx="483.27" cy="185.63" rx="2.1" ry="2.0"/><ellipse cx="484.04" cy="181.41" rx="2.1" ry="2.0"/><ellipse cx="484.80" cy="187.65" rx="2.1" ry="2.0"/><ellipse cx="485.57" cy="184.80" rx="2.1" ry="2.0"/><ellipse cx="486.33" cy="182.77" rx="2.1" ry="2.0"/><ellipse cx="487.10" cy="182.49" rx="2.1" ry="2.0"/><ellipse cx="487.86" cy="181.02" rx="2.1" ry="2.0"/><ellipse cx="488.63" cy="178.72" rx="2.1" ry="2.0"/><ellipse cx="489.39" cy="185.85" rx="2.1" ry="2.0"/><ellipse cx="490.16" cy="178.12" rx="2.1" ry="2.0"/><ellipse cx="490.92" cy="179.54" rx="2.1" ry="2.0"/><ellipse cx="491.69" cy="182.47" rx="2.1" ry="2.0"/><ellipse cx="492.45" cy="184.38" rx="2.1" ry="2.0"/><ellipse cx="493.22" cy="183.34" rx="2.1" ry="2.0"/><ellipse cx="493.98" cy="180.03" rx="2.1" ry="2.0"/><ellipse cx="494.75" cy="179.64" rx="2.1" ry="2.0"/><ellipse cx="495.51" cy="174.10" rx="2.1" ry="2.0"/><ellipse cx="496.28" cy="178.47" rx="2.1" ry="2.0"/><ellipse cx="497.04" cy="176.49" rx="2.1" ry="2.0"/><ellipse cx="497.81" cy="177.73" rx="2.1" ry="2.0"/><ellipse cx="498.57" cy="182.86" rx="2.1" ry="2.0"/><ellipse cx="499.34" cy="181.19" rx="2.1" ry="2.0"/><ellipse cx="500.10" cy="184.13" rx="2.1" ry="2.0"/><ellipse cx="500.87" cy="179.31" rx="2.1" ry="2.0"/><ellipse cx="501.63" cy="179.66" rx="2.1" ry="2.0"/><ellipse cx="502.40" cy="180.93" rx="2.1" ry="2.0"/><ellipse cx="503.16" cy="173.68" rx="2.1" ry="2.0"/><ellipse cx="503.93" cy="173.54" rx="2.1" ry="2.0"/><ellipse cx="504.69" cy="176.85" rx="2.1" ry="2.0"/><ellipse cx="505.46" cy="172.65" rx="2.1" ry="2.0"/><ellipse cx="506.22" cy="172.82" rx="2.1" ry="2.0"/><ellipse cx="506.99" cy="169.49" rx="2.1" ry="2.0"/><ellipse cx="507.75" cy="173.25" rx="2.1" ry="2.0"/><ellipse cx="508.52" cy="169.36" rx="2.1" ry="2.0"/><ellipse cx="509.28" cy="172.95" rx="2.1" ry="2.0"/><ellipse cx="510.05" cy="171.56" rx="2.1" ry="2.0"/><ellipse cx="510.81" cy="173.27" rx="2.1" ry="2.0"/><ellipse cx="511.58" cy="172.82" rx="2.1" ry="2.0"/><ellipse cx="512.35" cy="172.73" rx="2.1" ry="2.0"/><ellipse cx="513.11" cy="176.52" rx="2.1" ry="2.0"/><ellipse cx="513.88" cy="174.83" rx="2.1" ry="2.0"/><ellipse cx="514.64" cy="172.72" rx="2.1" ry="2.0"/><ellipse cx="515.40" cy="173.15" rx="2.1" ry="2.0"/><ellipse cx="516.17" cy="172.66" rx="2.1" ry="2.0"/><ellipse cx="516.93" cy="172.70" rx="2.1" ry="2.0"/><ellipse cx="517.70" cy="172.68" rx="2.1" ry="2.0"/><ellipse cx="518.46" cy="171.40" rx="2.1" ry="2.0"/><ellipse cx="519.23" cy="171.94" rx="2.1" ry="2.0"/><ellipse cx="520.00" cy="171.02" rx="2.1" ry="2.0"/><ellipse cx="520.76" cy="171.34" rx="2.1" ry="2.0"/><ellipse cx="521.52" cy="170.27" rx="2.1" ry="2.0"/><ellipse cx="522.29" cy="170.23" rx="2.1" ry="2.0"/><ellipse cx="523.05" cy="170.01" rx="2.1" ry="2.0"/><ellipse cx="523.82" cy="169.37" rx="2.1" ry="2.0"/><ellipse cx="524.58" cy="170.80" rx="2.1" ry="2.0"/><ellipse cx="525.35" cy="170.06" rx="2.1" ry="2.0"/><ellipse cx="526.12" cy="169.70" rx="2.1" ry="2.0"/><ellipse cx="526.88" cy="168.51" rx="2.1" ry="2.0"/><ellipse cx="527.64" cy="170.23" rx="2.1" ry="2.0"/><ellipse cx="528.41" cy="169.59" rx="2.1" ry="2.0"/><ellipse cx="529.17" cy="168.65" rx="2.1" ry="2.0"/><ellipse cx="529.94" cy="168.97" rx="2.1" ry="2.0"/><ellipse cx="530.70" cy="168.15" rx="2.1" ry="2.0"/><ellipse cx="531.47" cy="168.90" rx="2.1" ry="2.0"/><ellipse cx="532.24" cy="168.48" rx="2.1" ry="2.0"/><ellipse cx="533.00" cy="168.31" rx="2.1" ry="2.0"/><ellipse cx="533.76" cy="168.64" rx="2.1" ry="2.0"/><ellipse cx="534.53" cy="168.86" rx="2.1" ry="2.0"/><ellipse cx="535.29" cy="168.83" rx="2.1" ry="2.0"/><ellipse cx="536.06" cy="168.63" rx="2.1" ry="2.0"/><ellipse cx="536.82" cy="168.32" rx="2.1" ry="2.0"/><ellipse cx="537.59" cy="168.75" rx="2.1" ry="2.0"/><ellipse cx="538.36" cy="168.75" rx="2.1" ry="2.0"/><ellipse cx="539.12" cy="168.71" rx="2.1" ry="2.0"/><ellipse cx="539.88" cy="168.53" rx="2.1" ry="2.0"/></g></g>
<text transform="translate(494.02,157.85) scale(1.09,1)" text-anchor="middle" class="t">metrics/mAP50-95(M)</text>
<text transform="translate(435.15,276.00) scale(1.04,1)" text-anchor="end" class="k">0.20</text>
<text transform="translate(435.15,248.95) scale(1.04,1)" text-anchor="end" class="k">0.25</text>
<text transform="translate(435.15,221.90) scale(1.04,1)" text-anchor="end" class="k">0.30</text>
<text transform="translate(435.15,194.85) scale(1.04,1)" text-anchor="end" class="k">0.35</text>
<text transform="translate(435.15,167.80) scale(1.04,1)" text-anchor="end" class="k">0.40</text>
<text transform="translate(448.65,288.85) scale(1.04,1)" text-anchor="middle" class="k">0</text>
<text transform="translate(486.90,288.85) scale(1.04,1)" text-anchor="middle" class="k">50</text>
<text transform="translate(525.15,288.85) scale(1.04,1)" text-anchor="middle" class="k">100</text>
</g></svg>
</body></html>
